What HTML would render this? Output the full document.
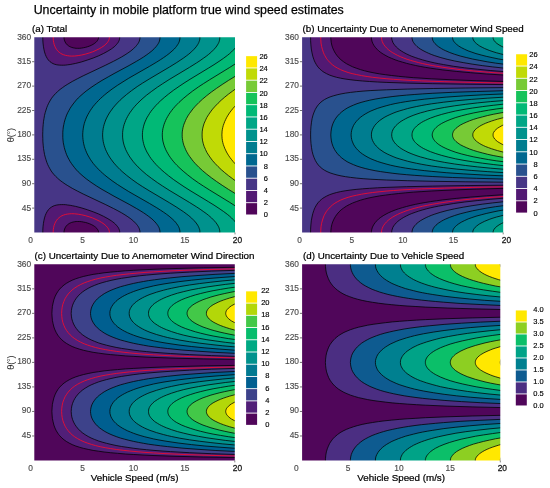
<!DOCTYPE html>
<html lang="en"><head><meta charset="utf-8"><title>Uncertainty in mobile platform true wind speed estimates</title>
<style>html,body{margin:0;padding:0;background:#fff}svg{display:block}</style></head>
<body>
<svg width="550" height="488" viewBox="0 0 550 488" font-family="'Liberation Sans', sans-serif">
<rect width="550" height="488" fill="#fff"/>
<text x="33.7" y="14.3" font-size="12.35" fill="#000" stroke="#000" stroke-width="0.25">Uncertainty in mobile platform true wind speed estimates</text>
<rect x="33.10" y="36.10" width="203.10" height="197.60" fill="#50065A"/>
<path d="M32.8 233.9L64.1 233.9L64 232.8L64 231.4L64.3 230.1L64.6 229L65.1 227.9L65.7 226.8L66.5 225.7L67.3 224.9L68.2 224.2L69.2 223.5L70.2 223L71.7 222.4L73.2 222L74.7 221.7L76.2 221.5L77.7 221.5L79.7 221.5L81.7 221.7L83.7 222.1L85.7 222.5L87.7 223.1L89.7 223.8L91.5 224.6L93.2 225.5L94.7 226.5L95.7 227.3L96.8 228.4L97.6 229.5L98.2 230.6L98.5 231.7L98.6 232.8L98.4 233.9L236.5 233.9L236.5 35.9L98.4 35.9L98.6 37L98.5 38.1L98.2 39.2L97.6 40.3L96.8 41.4L95.7 42.5L94.7 43.3L93.2 44.3L91.5 45.2L89.7 46L87.7 46.7L85.7 47.3L83.7 47.7L81.7 48.1L79.7 48.3L77.7 48.3L76.2 48.3L74.7 48.1L73.2 47.8L71.7 47.4L70.2 46.8L69.2 46.3L68.2 45.6L67.3 44.9L66.5 44.1L65.7 43L65.1 41.9L64.6 40.8L64.3 39.7L64 38.4L64 37L64.1 35.9L32.8 35.9Z" fill="#521973" fill-rule="evenodd"/>
<path d="M32.8 233.9L42.8 233.9L42.8 230.3L43 226.8L43.4 223.6L43.9 220.6L44.5 217.9L45.3 215.4L46.2 213.3L47.3 211.3L48.4 209.7L49.8 208.3L51.3 207.2L53 206.2L54.8 205.5L56.8 205L59.2 204.7L61.7 204.6L63.7 204.6L65.7 204.7L67.7 205L70.2 205.3L72.7 205.8L75.7 206.4L81.2 207.8L87.2 209.7L93.2 211.8L98.7 214L103.7 216.4L107.9 218.7L111.3 220.8L112.8 221.9L114.2 223L115.4 224.1L116.4 225.2L117.3 226.3L118.1 227.3L118.7 228.4L119.2 229.5L119.5 230.6L119.7 231.7L119.7 232.8L119.6 233.9L236.5 233.9L236.5 35.9L119.6 35.9L119.7 37L119.7 38.1L119.5 39.2L119.2 40.3L118.7 41.4L118.1 42.5L117.3 43.5L116.4 44.6L115.4 45.7L114.2 46.8L112.8 47.9L111.3 49L107.9 51.1L103.7 53.4L98.7 55.8L93.2 58L87.2 60.1L81.2 62L75.7 63.4L72.7 64L70.2 64.5L67.7 64.8L65.7 65.1L63.7 65.2L61.7 65.2L59.2 65.1L56.8 64.8L54.8 64.3L53 63.6L51.3 62.6L49.8 61.5L48.4 60.1L47.3 58.5L46.2 56.5L45.3 54.4L44.5 51.9L43.9 49.2L43.4 46.2L43 43L42.8 39.5L42.8 35.9L32.8 35.9Z" fill="#473686" fill-rule="evenodd"/>
<path d="M139.9 233.9L236.5 233.9L236.5 35.9L139.9 35.9L140 37L140 37.8L139.9 38.7L139.7 39.7L139.5 40.6L139 41.6L138 43.5L136.6 45.4L134.9 47.3L132.9 49.2L130.2 51.4L127.5 53.3L124.1 55.5L120.2 57.8L115.9 60.1L111.7 62.2L106.7 64.7L87.2 73.9L80 77.4L75.7 79.6L72.2 81.5L69 83.4L66.3 85L63.1 87.2L60.2 89.4L57.7 91.5L55.4 93.7L53.3 96.1L51.4 98.6L49.9 101L48.4 103.7L47.7 105.3L46.9 107.2L46.2 109.1L45.6 111L44.6 115.1L43.8 119.4L43.2 124.3L42.8 129.5L42.7 134.9L42.8 140.3L43.2 145.2L43.7 149.8L44.5 154.1L45.5 158.2L46.6 161.7L47.3 163.6L48 165.3L48.8 166.9L49.7 168.5L50.7 170.1L51.6 171.5L53.3 173.7L54.9 175.6L56.8 177.5L58.9 179.4L60.9 181L63.5 182.9L66.3 184.8L69.4 186.7L74.7 189.7L81.6 193.2L88.3 196.4L105.7 204.6L114.3 208.9L118.4 211.1L122.3 213.3L125.7 215.3L128.7 217.3L131.6 219.5L134.1 221.7L136.2 223.8L137.7 225.7L138.3 226.8L138.9 227.9L139.4 229L139.6 229.8L139.9 230.9L140 232L140 232.8Z" fill="#29518E" fill-rule="evenodd"/>
<path d="M160 233.9L236.5 233.9L236.5 35.9L160 35.9L160.1 37L160 37.8L159.9 38.9L159.7 40L159.4 41.1L159 42.2L158.4 43.3L157.8 44.3L157 45.4L156.2 46.5L155.2 47.6L153.9 49L151.5 51.1L148.5 53.6L145.8 55.5L143 57.4L139.5 59.5L135.8 61.7L128.7 65.7L109.1 76.3L103.9 79.3L99.3 82L94.6 85L90.2 88L86.6 90.7L82.9 93.7L80.2 96.1L77.4 98.8L75 101.6L72.7 104.4L70.8 107.2L69 110.2L67.5 113.2L66.2 116.2L65.2 119.2L64.2 122.4L63.6 125.7L63.1 129.2L62.8 132.5L62.8 136L63 139.5L63.3 142.8L63.9 146L64.7 149.3L65.8 152.5L67 155.5L68.4 158.5L70.1 161.5L71.9 164.2L73.9 166.9L75.7 169.1L77.7 171.2L79.9 173.4L82.3 175.6L84.9 177.7L87.6 179.9L90.6 182.1L93.8 184.2L99.8 188L106.7 192.1L113.5 195.9L129.7 204.6L137.2 208.9L140.8 211.1L144.2 213.3L147 215.1L149.5 217L152.2 219.2L154.5 221.4L156.4 223.6L157.2 224.6L157.9 225.7L158.6 226.8L159.1 227.9L159.7 229.8L159.9 230.9L160 232L160.1 232.8Z" fill="#006890" fill-rule="evenodd"/>
<path d="M179.9 233.9L236.5 233.9L236.5 35.9L179.9 35.9L180 37L180 38.1L179.9 39.2L179.6 40.3L179.3 41.4L178.9 42.5L178.3 43.5L177.7 44.6L176.2 46.8L174.1 49.1L171.7 51.4L168.8 53.8L166.3 55.7L163.2 57.9L159.9 60.1L156.4 62.2L149.5 66.3L129.7 77.7L124.3 80.9L119.2 84.2L113.9 87.7L109.4 91L105.3 94.2L101.6 97.5L98.5 100.5L95.5 103.7L93 106.7L90.7 110L88.6 113.2L87 116.5L85.6 119.7L84.4 123.2L83.7 126L83.2 128.7L82.9 131.4L82.7 134.1L82.8 137.1L83 139.8L83.4 142.5L84 145.2L84.8 147.9L85.8 150.6L87 153.3L88.2 155.8L89.8 158.5L91.4 160.9L93.2 163.4L95.2 165.8L97.2 168L99.3 170.1L101.6 172.3L104 174.5L106.7 176.7L109.4 178.8L112.4 181L115.5 183.2L121.3 187L127.9 191L134.4 194.8L150 203.8L157.3 208.1L160.7 210.3L164 212.4L167 214.6L169.5 216.5L172.3 218.9L174.5 221.1L176.4 223.3L177.9 225.5L178.5 226.5L179 227.6L179.4 228.7L179.7 229.8L179.9 230.9L180 232Z" fill="#007D90" fill-rule="evenodd"/>
<path d="M199.9 233.9L236.5 233.9L236.5 35.9L199.9 35.9L199.9 37L199.9 38.1L199.8 39.2L199.6 40.3L199.2 41.4L198.8 42.5L198.3 43.5L197.7 44.6L196.2 46.8L194.1 49.2L191.6 51.7L188.8 54.1L186.3 56L183.3 58.2L180.1 60.3L176.8 62.5L169.7 66.9L149.5 78.8L143.4 82.6L138.4 85.8L133 89.6L128.3 93.1L124 96.7L120.1 100.2L116.9 103.5L113.8 107L111.1 110.5L110 112.1L108.8 114L107.8 115.7L106.8 117.5L106.1 119.2L105.3 121.1L104.7 122.7L104.1 124.6L103.7 126.2L103.3 128.1L102.9 130.3L102.7 132.7L102.7 135.2L102.8 137.6L103 140.1L103.4 142.5L104 144.9L104.7 147.1L105.6 149.5L106.6 151.7L107.8 154.1L109.1 156.3L110.7 158.8L112.3 160.9L114.2 163.3L116.1 165.5L118.2 167.7L120.2 169.7L122.4 171.8L124.9 173.9L127.3 175.8L130 178L133 180.2L136 182.3L141.7 186.1L148.2 190.2L155 194.3L170.1 203.2L177.2 207.6L180.5 209.7L183.7 211.9L186.7 214.1L189.1 216L191.9 218.4L194.1 220.6L196.2 223L197.7 225.2L198.3 226.3L198.8 227.3L199.2 228.4L199.6 229.5L199.8 230.6L199.9 231.7L199.9 232.8Z" fill="#00928D" fill-rule="evenodd"/>
<path d="M219.8 233.9L236.5 233.9L236.5 35.9L219.8 35.9L219.8 37L219.8 38.1L219.7 39.2L219.5 40.3L219.2 41.4L218.8 42.5L218.3 43.5L217.5 44.9L216 47.1L213.9 49.5L211.5 51.9L208.3 54.7L205.8 56.5L202.9 58.7L199.7 60.9L195.9 63.3L188.9 67.7L170.4 78.8L165.2 82L160.6 85L156.2 88L152 91L148.1 94L144.8 96.7L142.3 98.8L140 101L137.8 103.2L135.7 105.3L133.8 107.5L132.1 109.7L130.5 111.9L129 114L127.8 116.2L126.6 118.4L125.6 120.5L124.7 123L124 125.1L123.4 127.3L123 129.5L122.7 131.9L122.6 134.1L122.6 136.3L122.7 138.4L123 140.6L123.5 142.8L124 144.9L124.8 147.1L125.5 149L126.5 151.2L127.6 153.3L128.9 155.5L130.1 157.4L131.7 159.6L133.4 161.7L135.1 163.8L137 165.8L138.8 167.7L141.1 169.9L143.2 171.8L145.8 173.9L150.9 178L156.6 182.1L162.3 185.9L168.7 189.9L174.9 193.7L189.8 202.7L196.8 207L200.5 209.5L203.6 211.6L206.6 213.8L209 215.7L211.7 218.1L214.2 220.6L216.2 223L217.7 225.2L218.3 226.3L218.8 227.3L219.2 228.4L219.5 229.5L219.7 230.6L219.8 231.7L219.8 232.8Z" fill="#00A686" fill-rule="evenodd"/>
<path d="M236.4 223.3L236.5 223.5L236.5 46.3L235.5 47.6L234.4 49L233.1 50.3L231.5 51.9L229.6 53.6L227.7 55.2L223.4 58.4L219 61.4L214 64.7L208.3 68.2L190 79.3L184 83.1L179.1 86.4L173.6 90.2L168.6 94L164.3 97.5L160.3 101L158.1 103.2L156 105.3L154.1 107.5L152.5 109.4L151 111.3L149.5 113.5L148.2 115.7L146.9 117.8L146 119.7L145 121.9L144.2 124.1L143.6 126.2L143.1 128.4L142.7 130.6L142.5 132.7L142.4 134.9L142.5 137.1L142.7 139.2L143.1 141.4L143.6 143.6L144.2 145.7L145 147.9L146 150.1L146.9 152L148.2 154.1L149.5 156.3L151 158.5L152.5 160.4L154.1 162.3L156 164.5L158.1 166.6L160.3 168.8L164.3 172.3L168.6 175.8L173.6 179.6L179.1 183.4L184 186.7L190 190.5L208.3 201.6L214 205.1L219 208.4L223.4 211.4L227.7 214.6L231.2 217.6L232.9 219.2L234.1 220.6L235.3 221.9Z" fill="#01B976" fill-rule="evenodd"/>
<path d="M236.2 206.5L236.5 206.7L236.5 63.1L229.3 67.7L209.4 79.9L203.4 83.7L198.5 86.9L192.7 91L187.8 94.8L183.2 98.6L179 102.4L176.9 104.5L175.1 106.4L173.2 108.6L171.7 110.5L170.3 112.4L168.8 114.6L167.7 116.5L166.5 118.6L165.6 120.5L164.7 122.7L164 124.6L163.4 126.8L162.9 128.7L162.6 130.8L162.4 132.7L162.3 134.9L162.4 137.1L162.6 139L162.9 141.1L163.4 143L164 145.2L164.7 147.1L165.6 149.3L166.5 151.2L167.7 153.3L168.8 155.2L170.3 157.4L171.7 159.3L173.2 161.2L175.1 163.4L176.9 165.3L179 167.4L183.2 171.2L187.8 175L192.7 178.8L198.5 182.9L203.4 186.1L209.4 189.9L228.9 201.9Z" fill="#16C35B" fill-rule="evenodd"/>
<path d="M236.4 194.3L236.5 194.3L236.5 75.5L228.5 80.4L222.2 84.5L216.6 88.3L211.3 92.1L206.8 95.6L202.6 99.1L198.8 102.6L195.3 106.2L193.6 108.1L192.1 110L189.5 113.5L188.4 115.1L187.3 117L186.4 118.6L185.5 120.5L184.8 122.2L184 124.1L183.5 125.7L183 127.6L182.7 129.2L182.4 131.1L182.2 133L182.2 134.9L182.2 136.8L182.4 138.7L182.7 140.6L183 142.2L183.5 144.1L184 145.7L184.8 147.6L185.5 149.3L186.4 151.2L187.3 152.8L188.4 154.7L189.5 156.3L192.1 159.8L193.6 161.7L195.3 163.6L198.8 167.2L202.6 170.7L206.8 174.2L211.3 177.7L216.6 181.5L222.2 185.3L228.5 189.4Z" fill="#77CA36" fill-rule="evenodd"/>
<path d="M236.5 181.5L236.5 181.6L236.5 88.2L232.3 91.3L228.4 94.2L224.7 97.2L221.2 100.2L218.1 103.2L215.2 106.2L212.6 109.1L210.5 111.9L208.5 114.8L206.8 117.5L205.5 120.3L204.2 123.2L203.3 126L202.6 128.9L202.2 131.9L202.1 134.9L202.2 137.9L202.6 140.9L203.3 143.8L204.2 146.6L205.5 149.5L206.8 152.3L208.5 155L210.5 157.9L212.6 160.7L215.2 163.6L218.1 166.6L221.2 169.6L224.7 172.6L228.4 175.6L232.3 178.5Z" fill="#C0DA06" fill-rule="evenodd"/>
<path d="M236.3 165L236.5 165.2L236.5 104.6L234.8 106.4L233.1 108.3L231.6 110.2L230.1 112.1L228.8 114L227.6 115.9L226.5 117.8L225.6 119.7L224.7 121.6L224 123.5L223.3 125.4L222.8 127.3L222.4 129.2L222.1 131.1L222 133L221.9 134.9L222 136.8L222.1 138.7L222.4 140.6L222.8 142.5L223.3 144.4L224 146.3L224.7 148.2L225.6 150.1L226.5 152L227.6 153.9L228.8 155.8L229.9 157.4L231.4 159.3L232.9 161.2L234.5 163.1Z" fill="#FFE800" fill-rule="evenodd"/>
<path d="M64.1 233.9L64 232.8L64 231.4L64.3 230.1L64.6 229L65.1 227.9L65.7 226.8L66.5 225.7L67.3 224.9L68.2 224.2L69.2 223.5L70.2 223L71.7 222.4L73.2 222L74.7 221.7L76.2 221.5L77.7 221.5L79.7 221.5L81.7 221.7L83.7 222.1L85.7 222.5L87.7 223.1L89.7 223.8L91.5 224.6L93.2 225.5L94.7 226.5L95.7 227.3L96.8 228.4L97.6 229.5L98.2 230.6L98.5 231.7L98.6 232.8L98.4 233.9M98.4 35.9L98.6 37L98.5 38.1L98.2 39.2L97.6 40.3L96.8 41.4L95.7 42.5L94.7 43.3L93.2 44.3L91.5 45.2L89.7 46L87.7 46.7L85.7 47.3L83.7 47.7L81.7 48.1L79.7 48.3L77.7 48.3L76.2 48.3L74.7 48.1L73.2 47.8L71.7 47.4L70.2 46.8L69.2 46.3L68.2 45.6L67.3 44.9L66.5 44.1L65.7 43L65.1 41.9L64.6 40.8L64.3 39.7L64 38.4L64 37L64.1 35.9M42.8 233.9L42.8 230.3L43 226.8L43.4 223.6L43.9 220.6L44.5 217.9L45.3 215.4L46.2 213.3L47.3 211.3L48.4 209.7L49.8 208.3L51.3 207.2L53 206.2L54.8 205.5L56.8 205L59.2 204.7L61.7 204.6L63.7 204.6L65.7 204.7L67.7 205L70.2 205.3L72.7 205.8L75.7 206.4L81.2 207.8L87.2 209.7L93.2 211.8L98.7 214L103.7 216.4L107.9 218.7L111.3 220.8L112.8 221.9L114.2 223L115.4 224.1L116.4 225.2L117.3 226.3L118.1 227.3L118.7 228.4L119.2 229.5L119.5 230.6L119.7 231.7L119.7 232.8L119.6 233.9M119.6 35.9L119.7 37L119.7 38.1L119.5 39.2L119.2 40.3L118.7 41.4L118.1 42.5L117.3 43.5L116.4 44.6L115.4 45.7L114.2 46.8L112.8 47.9L111.3 49L107.9 51.1L103.7 53.4L98.7 55.8L93.2 58L87.2 60.1L81.2 62L75.7 63.4L72.7 64L70.2 64.5L67.7 64.8L65.7 65.1L63.7 65.2L61.7 65.2L59.2 65.1L56.8 64.8L54.8 64.3L53 63.6L51.3 62.6L49.8 61.5L48.4 60.1L47.3 58.5L46.2 56.5L45.3 54.4L44.5 51.9L43.9 49.2L43.4 46.2L43 43L42.8 39.5L42.8 35.9M139.9 35.9L140 37L140 37.8L139.9 38.9L139.6 40L139.3 41.1L138.8 42.2L138.2 43.3L137.5 44.3L136.6 45.4L135.7 46.5L133.5 48.7L130.9 50.9L127.9 53L125 54.9L121.7 56.9L117.9 59L113.7 61.2L105.2 65.4L83.2 75.8L77.3 78.8L72.2 81.5L67.2 84.5L65.1 85.8L62.7 87.5L60.9 88.8L58.9 90.4L57.4 91.8L55.7 93.4L54.2 95L52.6 96.9L51.2 98.8L49.9 101L48.7 103.2L47.7 105.3L46.8 107.5L46 110L45.2 112.7L44.5 115.4L44 118.4L43.5 121.3L43.2 124.6L42.9 127.9L42.8 131.4L42.7 134.9L42.8 138.4L42.9 141.9L43.2 145.2L43.5 148.5L44 151.4L44.5 154.4L45.2 157.1L46 159.8L46.8 162.3L47.7 164.5L48.7 166.6L49.9 168.8L51.2 171L52.6 172.9L54.2 174.8L55.7 176.4L57.4 178L58.9 179.4L60.9 181L62.7 182.3L65.1 184L67.2 185.3L72.2 188.3L77.3 191L83.2 194L105.2 204.4L113.7 208.6L117.9 210.8L121.7 212.9L125 214.9L127.9 216.8L130.9 218.9L133.5 221.1L135.7 223.3L136.6 224.4L137.5 225.5L138.2 226.5L138.8 227.6L139.3 228.7L139.6 229.8L139.9 230.9L140 232L140 232.8L139.9 233.9M160 35.9L160.1 37L160 37.8L159.9 38.9L159.7 40L159.4 41.1L159 42.2L158.4 43.3L157.8 44.3L157 45.4L156.2 46.5L154.2 48.7L151.9 50.9L148.8 53.3L146.2 55.2L143.4 57.1L139.9 59.3L136.3 61.4L129.1 65.5L114 73.6L108.2 76.9L102 80.4L96.7 83.7L91 87.5L86.2 91L83.9 92.9L82 94.5L79.9 96.4L78.2 98L76.4 99.9L74.6 102.1L73.1 104L71.5 106.2L70.1 108.3L68.9 110.5L67.7 112.7L66.6 115.1L65.8 117.3L65 119.7L64.3 122.2L63.8 124.6L63.3 127L63 129.7L62.8 132.2L62.8 134.9L62.8 137.6L63 140.1L63.3 142.8L63.8 145.2L64.3 147.6L65 150.1L65.8 152.5L66.6 154.7L67.7 157.1L68.9 159.3L70.1 161.5L71.5 163.6L73.1 165.8L74.6 167.7L76.4 169.9L78.2 171.8L79.9 173.4L82 175.3L83.9 176.9L86.2 178.8L91 182.3L96.7 186.1L102 189.4L108.2 192.9L114 196.2L129.1 204.3L136.3 208.4L139.9 210.5L143.4 212.7L146.2 214.6L148.8 216.5L151.9 218.9L154.2 221.1L156.2 223.3L157 224.4L157.8 225.5L158.4 226.5L159 227.6L159.4 228.7L159.7 229.8L159.9 230.9L160 232L160.1 232.8L160 233.9M179.9 35.9L180 37.8L179.9 38.9L179.7 40L179.4 41.1L179 42.2L178.5 43.3L177.9 44.3L176.4 46.5L175.5 47.6L174.3 49L172 51.1L169.1 53.6L166.6 55.5L163.6 57.6L160.3 59.8L156.8 62L149.6 66.3L134.9 74.7L128.8 78.2L123 81.8L117.5 85.3L112 89.1L107 92.9L104.7 94.8L102.5 96.7L100.4 98.6L98.5 100.5L96.7 102.4L94.8 104.5L93.2 106.4L91.6 108.6L90.3 110.5L89 112.7L87.8 114.8L86.7 117L85.8 119.2L85 121.3L84.3 123.5L83.7 126L83.3 128.1L83 130.3L82.8 132.5L82.7 134.9L82.8 137.3L83 139.5L83.3 141.7L83.7 143.8L84.3 146.3L85 148.5L85.8 150.6L86.7 152.8L87.8 155L89 157.1L90.3 159.3L91.6 161.2L93.2 163.4L94.8 165.3L96.7 167.4L98.5 169.3L100.4 171.2L102.5 173.1L104.7 175L107 176.9L112 180.7L117.5 184.5L123 188L128.8 191.6L134.9 195.1L149.6 203.5L156.8 207.8L160.3 210L163.6 212.2L166.6 214.3L169.1 216.2L172 218.7L174.3 220.8L175.5 222.2L176.4 223.3L177.9 225.5L178.5 226.5L179 227.6L179.4 228.7L179.7 229.8L179.9 230.9L180 232L179.9 233.9M199.9 35.9L199.9 37L199.9 38.1L199.8 39.2L199.6 40.3L199.2 41.4L198.8 42.5L198.3 43.5L197.7 44.6L196.2 46.8L194.1 49.2L191.6 51.7L188.8 54.1L186.3 56L183.3 58.2L180.1 60.3L176.8 62.5L169.7 66.9L149.1 79.1L142.6 83.1L137.2 86.6L131.5 90.7L126.6 94.5L122.1 98.3L120.1 100.2L118.2 102.1L116.4 104L114.7 105.9L113.1 107.8L111.5 110L110.1 111.9L108.8 114L107.7 115.9L106.6 118.1L105.7 120L104.9 122.2L104.2 124.3L103.6 126.5L103.2 128.4L102.9 130.6L102.7 132.7L102.6 134.9L102.7 137.1L102.9 139.2L103.2 141.4L103.6 143.3L104.2 145.5L104.9 147.6L105.7 149.8L106.6 151.7L107.7 153.9L108.8 155.8L110.1 157.9L111.5 159.8L113.1 162L114.7 163.9L116.4 165.8L118.2 167.7L120.1 169.6L122.1 171.5L126.6 175.3L131.5 179.1L137.2 183.2L142.6 186.7L149.1 190.7L169.7 202.9L176.8 207.3L180.1 209.5L183.3 211.6L186.3 213.8L188.8 215.7L191.6 218.1L194.1 220.6L196.2 223L197.7 225.2L198.3 226.3L198.8 227.3L199.2 228.4L199.6 229.5L199.8 230.6L199.9 231.7L199.9 232.8L199.9 233.9M219.8 35.9L219.8 37L219.8 38.1L219.7 39.2L219.5 40.3L219.2 41.4L218.8 42.5L218.3 43.5L217.5 44.9L216 47.1L213.9 49.5L211.5 51.9L208.6 54.4L206.2 56.3L203.2 58.4L200.1 60.6L196.6 62.9L189.4 67.4L169.1 79.6L162.7 83.7L157.4 87.2L151.7 91.3L146.4 95.3L142 99.1L138 102.9L136.2 104.8L134.5 106.7L132.9 108.6L131.3 110.8L129.9 112.7L128.7 114.6L127.6 116.5L126.5 118.6L125.6 120.5L124.8 122.7L124.1 124.6L123.5 126.8L123.1 128.7L122.8 130.8L122.6 132.7L122.6 134.9L122.6 137.1L122.8 139L123.1 141.1L123.5 143L124.1 145.2L124.8 147.1L125.6 149.3L126.5 151.2L127.6 153.3L128.7 155.2L129.9 157.1L131.3 159L132.9 161.2L134.5 163.1L136.2 165L138 166.9L142 170.7L146.4 174.5L151.7 178.5L157.4 182.6L162.7 186.1L169.1 190.2L189.4 202.4L196.6 206.9L200.1 209.2L203.2 211.4L206.2 213.5L208.6 215.4L211.5 217.9L213.9 220.3L216 222.7L217.5 224.9L218.3 226.3L218.8 227.3L219.2 228.4L219.5 229.5L219.7 230.6L219.8 231.7L219.8 232.8L219.8 233.9M236.5 46.3L235.5 47.6L234.4 49L233.1 50.3L231.5 51.9L229.6 53.6L227.7 55.2L223.4 58.4L219 61.4L214 64.7L208.3 68.2L190 79.3L184 83.1L179.1 86.4L173.6 90.2L168.6 94L164.3 97.5L160.3 101L158.1 103.2L156 105.3L154.1 107.5L152.5 109.4L151 111.3L149.5 113.5L148.2 115.7L146.9 117.8L146 119.7L145 121.9L144.2 124.1L143.6 126.2L143.1 128.4L142.7 130.6L142.5 132.7L142.4 134.9L142.5 137.1L142.7 139.2L143.1 141.4L143.6 143.6L144.2 145.7L145 147.9L146 150.1L146.9 152L148.2 154.1L149.5 156.3L151 158.5L152.5 160.4L154.1 162.3L156 164.5L158.1 166.6L160.3 168.8L164.3 172.3L168.6 175.8L173.6 179.6L179.1 183.4L184 186.7L190 190.5L208.3 201.6L214 205.1L219 208.4L223.4 211.4L227.7 214.6L229.6 216.2L231.5 217.9L233.1 219.5L234.4 220.8L235.5 222.2L236.5 223.5M236.5 63.1L229.3 67.7L209.4 79.9L203.4 83.7L198.5 86.9L192.7 91L187.8 94.8L183.2 98.6L179 102.4L176.9 104.5L175.1 106.4L173.2 108.6L171.7 110.5L170.3 112.4L168.8 114.6L167.7 116.5L166.5 118.6L165.6 120.5L164.7 122.7L164 124.6L163.4 126.8L162.9 128.7L162.6 130.8L162.4 132.7L162.3 134.9L162.4 137.1L162.6 139L162.9 141.1L163.4 143L164 145.2L164.7 147.1L165.6 149.3L166.5 151.2L167.7 153.3L168.8 155.2L170.3 157.4L171.7 159.3L173.2 161.2L175.1 163.4L176.9 165.3L179 167.4L183.2 171.2L187.8 175L192.7 178.8L198.5 182.9L203.4 186.1L209.4 189.9L229.3 202.1L236.5 206.7M236.5 75.5L228.5 80.4L222.2 84.5L216.6 88.3L211.3 92.1L206.8 95.6L202.6 99.1L198.8 102.6L195.3 106.2L193.6 108.1L192.1 110L189.5 113.5L188.4 115.1L187.3 117L186.4 118.6L185.5 120.5L184.8 122.2L184 124.1L183.5 125.7L183 127.6L182.7 129.2L182.4 131.1L182.2 133L182.2 134.9L182.2 136.8L182.4 138.7L182.7 140.6L183 142.2L183.5 144.1L184 145.7L184.8 147.6L185.5 149.3L186.4 151.2L187.3 152.8L188.4 154.7L189.5 156.3L192.1 159.8L193.6 161.7L195.3 163.6L198.8 167.2L202.6 170.7L206.8 174.2L211.3 177.7L216.6 181.5L222.2 185.3L228.5 189.4L236.5 194.3M236.5 88.2L232.3 91.3L228.4 94.2L224.7 97.2L221.2 100.2L218.1 103.2L215.2 106.2L212.6 109.1L210.5 111.9L208.5 114.8L206.8 117.5L205.5 120.3L204.2 123.2L203.3 126L202.6 128.9L202.2 131.9L202.1 134.9L202.2 137.9L202.6 140.9L203.3 143.8L204.2 146.6L205.5 149.5L206.8 152.3L208.5 155L210.5 157.9L212.6 160.7L215.2 163.6L218.1 166.6L221.2 169.6L224.7 172.6L228.4 175.6L232.3 178.5L236.5 181.6M236.5 104.6L234.8 106.4L233.1 108.3L231.6 110.2L230.1 112.1L228.8 114L227.6 115.9L226.5 117.8L225.6 119.7L224.7 121.6L224 123.5L223.3 125.4L222.8 127.3L222.4 129.2L222.1 131.1L222 133L221.9 134.9L222 136.8L222.1 138.7L222.4 140.6L222.8 142.5L223.3 144.4L224 146.3L224.7 148.2L225.6 150.1L226.5 152L227.6 153.9L228.8 155.8L230.1 157.7L231.6 159.6L233.1 161.5L234.8 163.4L236.5 165.2" fill="none" stroke="#000" stroke-width="0.75" stroke-linejoin="round"/>
<path d="M53.2 233.9L53.2 231.7L53.3 229.5L53.7 227.3L54.1 225.5L54.8 223.6L55.6 221.9L56.6 220.3L57.7 218.9L59.1 217.6L60.6 216.5L62 215.7L63.7 215L65.7 214.4L67.4 214.1L69.7 213.8L71.7 213.7L74.7 213.8L78.2 214.2L81.7 214.8L85.2 215.6L89.2 216.8L92.7 218L96.1 219.5L99.2 221L101.7 222.5L104.1 224.1L105.9 225.7L107.4 227.3L108 228.2L108.5 229L108.9 229.8L109.1 230.6L109.3 231.4L109.4 232.2L109.4 233L109.3 233.9M109.3 35.9L109.4 36.8L109.4 37.6L109.3 38.4L109.1 39.2L108.9 40L108.5 40.8L108 41.6L107.4 42.5L105.9 44.1L104.1 45.7L101.7 47.3L99.2 48.8L96.1 50.3L92.7 51.8L89.2 53L85.2 54.2L81.7 55L78.2 55.6L74.7 56L71.7 56.1L69.7 56L67.4 55.7L65.7 55.4L63.7 54.8L62 54.1L60.6 53.3L59.1 52.2L57.7 50.9L56.6 49.5L55.6 47.9L54.8 46.2L54.1 44.3L53.7 42.5L53.3 40.3L53.2 38.1L53.2 35.9" fill="none" stroke="#FF0A2A" stroke-width="0.8" stroke-linejoin="round"/>
<path d="M31.299999999999997 34.3H238.0V235.5H31.299999999999997ZM34.3 37.3V232.5H235.0V37.3Z" fill="#fff" fill-rule="evenodd"/>
<text x="32.0" y="31.60" font-size="9.8" fill="#000" stroke="#000" stroke-width="0.22">(a) Total</text>
<line x1="32.1" x2="34.3" y1="208.10" y2="208.10" stroke="#333" stroke-width="0.7"/>
<text x="31.2" y="210.50" font-size="8.4" fill="#4D4D4D" stroke="#4D4D4D" stroke-width="0.15" text-anchor="end">45</text>
<line x1="32.1" x2="34.3" y1="183.70" y2="183.70" stroke="#333" stroke-width="0.7"/>
<text x="31.2" y="185.70" font-size="8.4" fill="#4D4D4D" stroke="#4D4D4D" stroke-width="0.15" text-anchor="end">90</text>
<line x1="32.1" x2="34.3" y1="159.30" y2="159.30" stroke="#333" stroke-width="0.7"/>
<text x="31.2" y="161.30" font-size="8.4" fill="#4D4D4D" stroke="#4D4D4D" stroke-width="0.15" text-anchor="end">135</text>
<line x1="32.1" x2="34.3" y1="134.90" y2="134.90" stroke="#333" stroke-width="0.7"/>
<text x="31.2" y="136.90" font-size="8.4" fill="#4D4D4D" stroke="#4D4D4D" stroke-width="0.15" text-anchor="end">180</text>
<line x1="32.1" x2="34.3" y1="110.50" y2="110.50" stroke="#333" stroke-width="0.7"/>
<text x="31.2" y="112.50" font-size="8.4" fill="#4D4D4D" stroke="#4D4D4D" stroke-width="0.15" text-anchor="end">225</text>
<line x1="32.1" x2="34.3" y1="86.10" y2="86.10" stroke="#333" stroke-width="0.7"/>
<text x="31.2" y="88.10" font-size="8.4" fill="#4D4D4D" stroke="#4D4D4D" stroke-width="0.15" text-anchor="end">270</text>
<line x1="32.1" x2="34.3" y1="61.70" y2="61.70" stroke="#333" stroke-width="0.7"/>
<text x="31.2" y="63.70" font-size="8.4" fill="#4D4D4D" stroke="#4D4D4D" stroke-width="0.15" text-anchor="end">315</text>
<text x="31.2" y="39.70" font-size="8.4" fill="#4D4D4D" stroke="#4D4D4D" stroke-width="0.15" text-anchor="end">360</text>
<text x="30.7" y="242.9" font-size="8.4" fill="#4D4D4D" stroke="#4D4D4D" stroke-width="0.15" text-anchor="middle">0</text>
<text x="82.7" y="242.9" font-size="8.4" fill="#4D4D4D" stroke="#4D4D4D" stroke-width="0.15" text-anchor="middle">5</text>
<text x="133.5" y="242.9" font-size="8.4" fill="#4D4D4D" stroke="#4D4D4D" stroke-width="0.15" text-anchor="middle">10</text>
<text x="184.8" y="242.9" font-size="8.4" fill="#4D4D4D" stroke="#4D4D4D" stroke-width="0.15" text-anchor="middle">15</text>
<text x="237.4" y="242.9" font-size="8.4" fill="#1a1a1a" stroke="#1a1a1a" stroke-width="0.3" text-anchor="middle">20</text>
<line x1="235.0" x2="235.0" y1="232.5" y2="234.4" stroke="#333" stroke-width="0.6"/>
<text transform="translate(14.2 135.2) rotate(-90)" font-size="9.2" fill="#222" letter-spacing="-0.2" text-anchor="middle">θ(°)</text>
<rect x="246.1" y="203.15" width="11.0" height="11.35" fill="#50065A"/>
<rect x="246.1" y="190.90" width="11.0" height="11.35" fill="#521973"/>
<rect x="246.1" y="178.65" width="11.0" height="11.35" fill="#473686"/>
<rect x="246.1" y="166.40" width="11.0" height="11.35" fill="#29518E"/>
<rect x="246.1" y="154.15" width="11.0" height="11.35" fill="#006890"/>
<rect x="246.1" y="141.90" width="11.0" height="11.35" fill="#007D90"/>
<rect x="246.1" y="129.65" width="11.0" height="11.35" fill="#00928D"/>
<rect x="246.1" y="117.40" width="11.0" height="11.35" fill="#00A686"/>
<rect x="246.1" y="105.15" width="11.0" height="11.35" fill="#01B976"/>
<rect x="246.1" y="92.90" width="11.0" height="11.35" fill="#16C35B"/>
<rect x="246.1" y="80.65" width="11.0" height="11.35" fill="#77CA36"/>
<rect x="246.1" y="68.40" width="11.0" height="11.35" fill="#C0DA06"/>
<rect x="246.1" y="56.15" width="11.0" height="11.35" fill="#FFE800"/>
<text x="267.8" y="217.10" font-size="7.5" fill="#000" stroke="#000" stroke-width="0.15" text-anchor="end">0</text>
<text x="267.8" y="204.95" font-size="7.5" fill="#000" stroke="#000" stroke-width="0.15" text-anchor="end">2</text>
<text x="267.8" y="192.81" font-size="7.5" fill="#000" stroke="#000" stroke-width="0.15" text-anchor="end">4</text>
<text x="267.8" y="180.66" font-size="7.5" fill="#000" stroke="#000" stroke-width="0.15" text-anchor="end">6</text>
<text x="267.8" y="168.52" font-size="7.5" fill="#000" stroke="#000" stroke-width="0.15" text-anchor="end">8</text>
<text x="267.8" y="156.37" font-size="7.5" fill="#000" stroke="#000" stroke-width="0.15" text-anchor="end">10</text>
<text x="267.8" y="144.22" font-size="7.5" fill="#000" stroke="#000" stroke-width="0.15" text-anchor="end">12</text>
<text x="267.8" y="132.08" font-size="7.5" fill="#000" stroke="#000" stroke-width="0.15" text-anchor="end">14</text>
<text x="267.8" y="119.93" font-size="7.5" fill="#000" stroke="#000" stroke-width="0.15" text-anchor="end">16</text>
<text x="267.8" y="107.79" font-size="7.5" fill="#000" stroke="#000" stroke-width="0.15" text-anchor="end">18</text>
<text x="267.8" y="95.64" font-size="7.5" fill="#000" stroke="#000" stroke-width="0.15" text-anchor="end">20</text>
<text x="267.8" y="83.49" font-size="7.5" fill="#000" stroke="#000" stroke-width="0.15" text-anchor="end">22</text>
<text x="267.8" y="71.35" font-size="7.5" fill="#000" stroke="#000" stroke-width="0.15" text-anchor="end">24</text>
<text x="267.8" y="59.20" font-size="7.5" fill="#000" stroke="#000" stroke-width="0.15" text-anchor="end">26</text>
<rect x="300.90" y="36.10" width="203.50" height="197.60" fill="#50065A"/>
<path d="M300.6 233.9L330.9 233.9L330.8 232.2L330.9 230.6L331 229L331.3 227.3L331.6 225.7L332 224.1L332.5 222.5L333 221.1L334.3 218.4L335 217L335.9 215.7L336.9 214.3L337.8 213.3L339 211.9L340.1 210.8L342.4 208.9L345.1 207L348.2 205.1L351.6 203.5L355.5 201.9L359.5 200.5L364.2 199.2L369.1 197.9L373.8 197L378.6 196.1L384.1 195.3L390.1 194.4L396.3 193.7L403.2 193L410.2 192.4L417.9 191.8L435.2 190.8L455.2 189.8L478.2 189L504.7 188.3L504.7 81.5L478.2 80.8L455.2 80L435.2 79L417.9 78L410.2 77.4L403.2 76.8L396.3 76.1L390.1 75.4L384.1 74.5L378.6 73.7L373.8 72.8L369.1 71.9L364.2 70.6L359.5 69.3L355.5 67.9L351.6 66.3L348.2 64.7L345.1 62.8L342.4 60.9L340.1 59L339 57.9L337.8 56.5L336.9 55.5L335.9 54.1L335 52.8L334.3 51.4L333 48.7L332.5 47.3L332 45.7L331.6 44.1L331.3 42.5L331 40.8L330.9 39.2L330.8 37.6L330.9 35.9L300.6 35.9ZM371.5 233.9L504.7 233.9L504.7 194.7L486.7 195.8L470.7 197.1L456.2 198.4L442.7 199.9L436.3 200.8L430.7 201.6L425.2 202.5L420.2 203.4L415.7 204.3L410.8 205.4L406.5 206.5L402.6 207.6L398.6 208.8L395.2 210L391.7 211.4L388.7 212.7L386 214.1L383.2 215.7L380.8 217.3L378.7 218.9L377 220.6L375.3 222.5L374.1 224.1L373 226L372.2 227.9L371.7 229.8L371.4 231.7L371.4 232.8ZM503.1 75L504.7 75.1L504.7 35.9L371.5 35.9L371.4 37L371.4 38.1L371.7 40L372.2 41.9L373 43.8L374.1 45.7L375.3 47.3L377 49.2L378.7 50.9L380.8 52.5L383.2 54.1L386 55.7L388.6 57.1L391.7 58.4L395.1 59.8L398.6 61L402.1 62.1L406.5 63.3L410.7 64.4L415.2 65.4L419.7 66.3L424.7 67.2L430.2 68.1L435.7 68.9L441.7 69.7L454.7 71.2L469.2 72.6L485.2 73.9Z" fill="#521973" fill-rule="evenodd"/>
<path d="M300.6 233.9L310.6 233.9L310.7 228.4L311 223.3L311.7 218.7L312.1 216.5L312.6 214.3L313.1 212.4L313.8 210.5L314.4 208.9L315.2 207.3L316 205.7L316.9 204.3L317.9 202.9L318.8 201.9L320.4 200.2L322.1 198.8L324.1 197.5L326.4 196.2L328.7 195.1L331.6 194L334.6 193.1L337.6 192.3L341.6 191.4L346.1 190.7L351.3 189.9L357.1 189.3L363.6 188.7L370.6 188.2L378.6 187.7L387.1 187.3L407.7 186.6L433.7 186.1L465.2 185.6L504.7 185.2L504.7 84.6L465.2 84.2L433.7 83.7L407.7 83.2L387.1 82.5L378.6 82.1L370.6 81.6L363.6 81.1L357.1 80.5L351.3 79.9L346.1 79.1L341.6 78.4L337.6 77.5L334.6 76.7L331.6 75.8L328.7 74.7L326.4 73.6L324.1 72.3L322.1 71L320.4 69.6L318.8 67.9L317.9 66.9L316.9 65.5L316 64.1L315.2 62.5L314.4 60.9L313.8 59.3L313.1 57.4L312.6 55.5L312.1 53.3L311.7 51.1L311 46.5L310.7 41.4L310.6 35.9L300.6 35.9ZM391.8 233.9L504.7 233.9L504.7 198.1L490.2 199.3L477.2 200.6L464.7 202L453.7 203.5L443.7 205.2L438.7 206.1L434.2 207L430.2 207.9L426.2 208.9L422.3 210L418.7 211.1L415.2 212.3L411.8 213.5L409.2 214.6L406.3 216L403.8 217.3L401.5 218.7L399.6 220L397.8 221.4L396.4 222.7L394.9 224.4L393.9 225.7L392.9 227.3L392.3 229L391.8 230.6L391.7 232.2ZM501.4 71.5L504.7 71.7L504.7 35.9L391.8 35.9L391.7 37.6L391.8 39.2L392.3 40.8L392.9 42.5L393.9 44.1L394.9 45.4L396.4 47.1L397.8 48.4L399.6 49.8L401.5 51.1L403.8 52.5L406.3 53.8L409.2 55.2L411.8 56.3L414.7 57.4L418.2 58.6L421.3 59.5L425.2 60.6L429.2 61.6L433.2 62.6L437.7 63.5L442.4 64.4L452 66L462.7 67.5L474.7 69L487.7 70.3Z" fill="#473686" fill-rule="evenodd"/>
<path d="M412.1 233.9L504.7 233.9L504.7 201.6L492.7 202.9L482.2 204.2L472.1 205.7L463.2 207.2L454.7 208.8L447.1 210.5L440.1 212.4L434.2 214.3L431.2 215.4L428.6 216.5L426.2 217.6L424 218.7L422 219.8L420.3 220.8L418.7 222L417 223.3L415.9 224.4L414.7 225.7L413.7 227.1L412.9 228.4L412.4 229.8L412.1 231.1L412 232.5ZM494.1 182.1L504.7 182.2L504.7 87.6L471.7 87.9L443.7 88.3L420.7 88.7L401.1 89.2L384.6 89.8L371.1 90.6L359.6 91.4L354.6 91.9L350.1 92.5L346.1 93.1L342.3 93.7L338.6 94.5L335.6 95.2L332.6 96.1L330.1 96.9L327.6 98L325.4 99.1L323.6 100.2L321.7 101.6L320.1 102.9L318.6 104.5L317.3 106.2L316 108.1L314.9 110.2L314 112.4L313.3 114.3L312.7 116.5L312.1 118.6L311.7 121.1L311.3 123.5L311 126.2L310.8 128.9L310.6 131.9L310.6 134.6L310.6 137.6L310.7 140.6L310.9 143.3L311.3 146L311.7 148.7L312.1 151.2L312.7 153.3L313.2 155.2L313.8 156.9L314.4 158.5L315.2 160.1L316 161.7L316.9 163.1L317.9 164.5L318.8 165.5L319.8 166.6L321 167.7L322.4 168.8L323.6 169.6L325.1 170.5L326.6 171.3L328.1 172L330.1 172.9L333.6 174.1L337.6 175.1L342.3 176.1L347.6 177L353.6 177.7L360.1 178.4L367.6 179L375.6 179.5L385.1 180L395.6 180.4L407.7 180.8L421.2 181.1L453.2 181.6ZM502.5 67.9L504.7 68.2L504.7 35.9L412.1 35.9L412 37.3L412.1 38.7L412.4 40L412.9 41.4L413.7 42.7L414.7 44.1L415.9 45.4L417 46.5L418.7 47.8L420.3 49L422 50L424 51.1L426.2 52.2L428.6 53.3L431.2 54.4L434.2 55.5L440.1 57.4L447.1 59.3L454.2 60.9L462.4 62.5L471.2 64L480.7 65.4L491.2 66.7Z" fill="#29518E" fill-rule="evenodd"/>
<path d="M432.4 233.9L504.7 233.9L504.7 205.5L495.5 206.7L487.2 208L479.2 209.5L472.5 210.8L466.2 212.3L460.2 213.8L454.7 215.5L449.7 217.3L445.3 219.2L443.6 220L441.6 221.1L440.2 222L438.6 223L437.2 224.1L436 225.2L434.9 226.3L434.1 227.3L433.4 228.4L432.8 229.5L432.5 230.6L432.3 231.7L432.2 232.8ZM494.9 178.8L504.7 179.1L504.7 90.7L479.2 91.4L457.2 92.2L438.2 93L421.2 94L406.7 95.1L400.1 95.7L393.6 96.4L387.6 97.2L382.1 98L377.1 98.8L372.6 99.6L368.1 100.6L364.2 101.6L360.4 102.6L357 103.7L354.1 104.8L351 106.2L348.1 107.6L345.4 109.1L343.1 110.8L341 112.4L339 114.3L337.3 116.2L335.7 118.4L334.4 120.5L333.3 122.7L332.4 125.1L331.9 126.8L331.5 128.4L331.2 130L331 131.6L330.9 133.3L330.8 135.2L330.9 136.8L331 138.4L331.3 140.1L331.6 141.7L332 143.3L332.5 144.9L333.1 146.5L333.7 147.9L334.6 149.5L335.4 150.9L337.1 153.3L338.1 154.5L339.3 155.8L340.4 156.9L341.7 157.9L343.1 159L344.6 160.1L347.6 161.9L351 163.6L354.6 165.2L358.6 166.6L362.6 167.8L367.4 169.1L372.4 170.1L378.1 171.2L384.1 172.1L390.6 173L397.6 173.8L405.2 174.5L413.2 175.2L422.2 175.9L432.2 176.5L442.7 177L466.7 178ZM503.4 64.1L504.7 64.3L504.7 35.9L432.4 35.9L432.2 37L432.3 38.1L432.5 39.2L432.8 40.3L433.4 41.4L434.1 42.5L434.9 43.5L436 44.6L437.2 45.7L438.6 46.8L440.2 47.8L441.6 48.7L443.6 49.8L445.3 50.6L449.2 52.3L454.2 54.1L459.2 55.7L465.2 57.3L471.2 58.7L478.2 60.2L486.2 61.6L494.2 62.9Z" fill="#006890" fill-rule="evenodd"/>
<path d="M452.7 233.9L504.7 233.9L504.7 209.8L498.2 210.9L492.1 212.2L486.2 213.5L481.2 214.8L476 216.2L471.9 217.6L468.2 218.9L464.7 220.5L461.3 222.2L458.7 223.8L456.5 225.5L455.6 226.3L454.9 227.1L454.2 227.9L453.6 228.7L453.2 229.5L452.9 230.3L452.7 231.1L452.5 232L452.5 233ZM502.9 175.8L504.7 175.9L504.7 93.9L484.3 94.8L466.2 95.8L449.7 96.9L435.2 98.1L422.2 99.4L416.2 100.2L410.7 100.9L405.2 101.8L400.3 102.6L395.6 103.5L391.1 104.5L386.7 105.6L382.8 106.7L379.1 107.8L375.6 109.1L372.6 110.3L369.6 111.6L367.1 112.9L364.3 114.6L361.9 116.2L359.9 117.8L358.1 119.4L356.4 121.3L354.9 123.2L353.7 125.1L352.8 127L352 129.2L351.4 131.6L351.1 134.1L351.1 135.4L351.2 136.8L351.6 139.2L352 140.6L352.4 141.7L352.9 143L353.4 144.1L354.2 145.5L354.9 146.6L356.6 148.8L358.7 150.9L360.9 152.8L363.5 154.7L366.6 156.6L369.7 158.2L373.4 159.8L377.1 161.3L381.1 162.6L385.6 163.9L389.9 165L394.8 166.1L400.3 167.2L406.2 168.2L412.2 169.1L418.7 169.9L426.2 170.8L433.7 171.6L441.9 172.3L450.7 173L459.7 173.6L479.7 174.8ZM503.5 59.8L504.7 60L504.7 35.9L452.7 35.9L452.5 36.8L452.5 37.8L452.7 38.7L452.9 39.5L453.2 40.3L453.6 41.1L454.2 41.9L454.9 42.7L455.6 43.5L456.5 44.3L458.6 46L461.3 47.6L464.5 49.2L468.2 50.8L471.9 52.2L476 53.6L480.7 54.9L486.1 56.3L491.2 57.4L497.2 58.7Z" fill="#007D90" fill-rule="evenodd"/>
<path d="M472.9 233.9L504.7 233.9L504.7 214.9L500.5 216L496.6 217L493 218.1L489.8 219.2L487 220.3L484.4 221.4L482.2 222.5L479.7 223.8L478.1 224.9L476.3 226.3L475.2 227.3L474.1 228.7L473.4 229.8L472.9 231.1L472.8 232.5ZM503.1 172.6L504.7 172.7L504.7 97.1L488.2 98.1L473.2 99.3L459.5 100.5L446.8 101.8L435.7 103.3L425.7 104.8L416.7 106.5L412.2 107.5L408.2 108.4L404.5 109.4L400.8 110.5L397.5 111.6L394.5 112.7L391.6 113.8L388.7 115.1L386 116.5L383.7 117.8L381.6 119.2L379.4 120.8L377.8 122.2L376.2 123.8L374.8 125.4L373.7 127L372.9 128.7L372.1 130.6L371.6 132.5L371.5 133.5L371.4 134.6L371.4 135.7L371.5 136.8L371.9 138.7L372.3 139.8L372.7 140.9L373.7 142.8L375 144.7L376.7 146.6L378.7 148.5L380.8 150.1L383.2 151.7L386 153.3L389.1 154.9L392.4 156.3L395.9 157.7L399.6 158.9L403.5 160.1L407.7 161.2L412.2 162.3L417.2 163.4L422.2 164.4L427.7 165.3L433.7 166.2L439.7 167.1L446.2 167.9L453.2 168.7L468.2 170.1L484.7 171.4ZM503.7 54.7L504.7 54.9L504.7 35.9L472.9 35.9L472.8 37.3L472.9 38.7L473.4 40L474.1 41.1L475.2 42.5L476.3 43.5L478.1 44.9L479.7 46L482.2 47.3L484.4 48.4L487 49.5L489.8 50.6L493 51.7L496.6 52.8Z" fill="#00928D" fill-rule="evenodd"/>
<path d="M493.2 233.6L493.2 233.9L504.7 233.9L504.7 222L501.9 223.3L499.4 224.6L497.4 226L496.3 226.8L495.5 227.6L494.3 229L493.8 229.8L493.4 230.6L493.2 231.1L493.1 232L493.1 232.8ZM501.4 169.1L504.7 169.3L504.7 100.5L491.7 101.6L479.2 102.7L468 104L457.6 105.3L448.2 106.8L439.5 108.3L431.7 110L427.7 110.9L424.2 111.9L417.8 113.8L414.7 114.8L411.8 115.9L409.2 117L406.9 118.1L404.7 119.2L402.4 120.5L400.6 121.7L398.8 123L397.2 124.3L395.8 125.7L394.7 127L393.7 128.4L392.9 129.7L392.3 131.4L391.8 133L391.7 134.6L391.7 135.7L391.8 136.5L392.2 138.2L392.8 139.8L393.7 141.4L394.9 143L396.4 144.7L398.1 146.3L399.9 147.6L401.9 149L404.3 150.4L406.9 151.7L409.9 153.1L413.2 154.4L416.2 155.5L419.5 156.6L423.2 157.7L427.3 158.8L431.7 159.8L436.2 160.8L440.7 161.7L450.3 163.4L461.5 165L473.2 166.4L486.7 167.8ZM504.2 47.6L504.7 47.8L504.7 35.9L493.2 35.9L493.1 36.8L493.1 37.6L493.2 38.4L493.3 38.9L493.7 39.7L494.1 40.6L495.2 41.9L496 42.7L497 43.5L499 44.9L501.3 46.2Z" fill="#00A686" fill-rule="evenodd"/>
<path d="M502.5 165.5L504.7 165.8L504.7 104L494.7 105.1L484.7 106.3L475.8 107.5L467.1 108.9L459.5 110.2L452.2 111.7L445.7 113.3L439.7 115L434.2 116.7L429.2 118.6L425 120.5L423 121.6L421.1 122.7L419.5 123.8L418 124.9L416.7 126L415.6 127L414.7 128.1L413.9 129.2L413.2 130.3L412.6 131.6L412.2 133L412 134.4L412 135.7L412.2 137.1L412.7 138.4L413.3 139.8L414.2 141.1L415.4 142.5L416.7 143.8L418.4 145.2L420.2 146.5L422 147.6L424.5 149L426.7 150.1L429.2 151.2L431.9 152.3L435 153.3L438.3 154.4L445 156.3L452.7 158.2L460.7 159.8L469.7 161.4L479.6 162.8L490.2 164.2Z" fill="#01B976" fill-rule="evenodd"/>
<path d="M503.4 161.7L504.7 161.9L504.7 107.9L496.7 109L489.2 110.1L482.1 111.3L475.7 112.5L470 113.8L464.2 115.2L459.2 116.5L454.2 118.1L449.7 119.7L446.2 121.2L442.6 123L439.8 124.6L437.5 126.2L436.6 127L435.4 128.1L434.7 129L433.9 130L433.4 130.8L432.8 131.9L432.5 133L432.3 134.1L432.2 135.4L432.4 136.5L432.7 137.6L433.2 138.7L433.9 139.8L434.7 140.9L435.7 141.9L436.9 143L438.3 144.1L439.8 145.2L441.6 146.3L443.6 147.4L445.7 148.4L447.7 149.3L452.6 151.2L457.6 152.8L463.3 154.4L470.2 156.1L477.7 157.7L485.2 159L493.7 160.4Z" fill="#16C35B" fill-rule="evenodd"/>
<path d="M503.5 157.4L504.7 157.6L504.7 112.2L499 113.2L494.2 114.1L489.6 115.1L485 116.2L480.7 117.3L476.9 118.4L473.2 119.5L469.6 120.8L466.7 122L463.9 123.2L461.3 124.6L459 126L457.2 127.3L455.6 128.7L454.4 130L453.8 130.8L453.3 131.6L453 132.5L452.7 133.5L452.5 134.4L452.5 135.4L452.7 136.5L453 137.3L453.3 138.2L453.8 139L454.6 140.1L455.4 140.9L457.2 142.5L458.6 143.6L459.9 144.4L462.8 146L466.3 147.6L470.4 149.3L474.7 150.7L479.7 152.2L485 153.6L490.9 155L497.2 156.3Z" fill="#77CA36" fill-rule="evenodd"/>
<path d="M503.7 152.3L504.7 152.5L504.7 117.3L498.7 118.8L493.7 120.3L489.1 121.9L484.7 123.7L481.1 125.4L478.5 127L477.2 127.9L476 128.9L475.2 129.7L474.3 130.8L473.4 132.2L472.9 133.5L472.8 134.4L472.8 135.2L473 136.5L473.3 137.3L473.7 138.2L474.7 139.5L476 140.9L477.7 142.2L479.7 143.6L482.2 144.9L485 146.3L487.7 147.4L491.2 148.7L494.7 149.8L499.2 151.1Z" fill="#C0DA06" fill-rule="evenodd"/>
<path d="M504.2 145.2L504.7 145.4L504.7 124.4L502.2 125.5L499.9 126.8L497.7 128.1L496 129.5L494.7 130.8L493.8 132.2L493.5 132.7L493.2 133.5L493.1 134.1L493.1 134.9L493.1 135.7L493.2 136.3L493.5 137.1L493.8 137.6L494.7 139L495.7 140.1L497.4 141.4L499.4 142.8L501.7 144Z" fill="#FFE800" fill-rule="evenodd"/>
<path d="M330.9 233.9L330.8 232.2L330.9 230.6L331.2 227.6L331.8 224.6L332.7 221.9L333.9 219.2L334.6 217.9L335.4 216.5L337.1 214.1L339 211.9L341.1 209.9L343.6 208L346.3 206.2L349.3 204.6L352.6 203L356.3 201.6L360.4 200.2L364.6 199L369.1 197.9L374.1 196.9L379.6 195.9L385.3 195.1L391.6 194.3L398.6 193.5L405.7 192.8L413.7 192.1L421.9 191.6L431.2 191L452.2 190L476.2 189.1L504.7 188.3M504.7 194.7L486.7 195.8L470.7 197.1L456.2 198.4L442.7 199.9L436.3 200.8L430.7 201.6L425.2 202.5L420.2 203.4L415.7 204.3L410.8 205.4L406.5 206.5L402.6 207.6L398.6 208.8L395.2 210L391.7 211.4L388.7 212.7L386 214.1L383.2 215.7L380.8 217.3L378.7 218.9L377 220.6L375.3 222.5L374.1 224.1L373 226L372.2 227.9L371.7 229.8L371.4 231.7L371.4 232.8L371.5 233.9M504.7 81.5L476.2 80.7L452.2 79.8L431.2 78.8L421.9 78.2L413.7 77.7L405.7 77L398.6 76.3L391.6 75.5L385.3 74.7L379.6 73.9L374.1 72.9L369.1 71.9L364.6 70.8L360.4 69.6L356.3 68.2L352.6 66.8L349.3 65.2L346.3 63.6L343.6 61.8L341.1 59.9L339 57.9L337.1 55.7L335.4 53.3L334.6 51.9L333.9 50.6L332.7 47.9L331.8 45.2L331.2 42.2L330.9 39.2L330.8 37.6L330.9 35.9M371.5 35.9L371.4 37L371.4 38.1L371.7 40L372.2 41.9L373 43.8L374.1 45.7L375.3 47.3L377 49.2L378.7 50.9L380.8 52.5L383.2 54.1L386 55.7L388.7 57.1L391.7 58.4L395.2 59.8L398.6 61L402.6 62.2L406.5 63.3L410.8 64.4L415.7 65.5L420.2 66.4L425.2 67.3L430.7 68.2L436.3 69L442.7 69.9L456.2 71.4L470.7 72.7L486.7 74L504.7 75.1M310.6 233.9L310.6 229.2L310.9 224.9L311.3 220.8L312 217L312.8 213.5L313.8 210.5L314.4 208.9L315 207.6L316.4 205.1L317.9 202.9L318.8 201.9L319.8 200.8L321.7 199.2L322.8 198.3L324.1 197.5L326.6 196.1L329.6 194.7L333.1 193.5L336.6 192.5L340.6 191.6L345.1 190.8L350.1 190.1L356.1 189.4L362.6 188.8L369.6 188.3L377.6 187.8L386.1 187.4L406.7 186.7L432.7 186.1L464.7 185.6L504.7 185.2M504.7 198.1L490.2 199.3L477.2 200.6L464.7 202L453.7 203.5L443.7 205.2L438.7 206.1L434.2 207L430.2 207.9L426.2 208.9L422.3 210L418.7 211.1L415.2 212.3L411.8 213.5L409.2 214.6L406.3 216L403.8 217.3L401.5 218.7L399.6 220L397.8 221.4L396.4 222.7L394.9 224.4L393.9 225.7L392.9 227.3L392.3 229L391.8 230.6L391.7 232.2L391.8 233.9M504.7 84.6L464.7 84.2L432.7 83.7L406.7 83.1L386.1 82.4L377.6 82L369.6 81.5L362.6 81L356.1 80.4L350.1 79.7L345.1 79L340.6 78.2L336.6 77.3L333.1 76.3L329.6 75.1L326.6 73.7L324.1 72.3L322.8 71.5L321.7 70.6L319.8 69L318.8 67.9L317.9 66.9L316.4 64.7L315 62.2L314.4 60.9L313.8 59.3L312.8 56.3L312 52.8L311.3 49L310.9 44.9L310.6 40.6L310.6 35.9M391.8 35.9L391.7 37.6L391.8 39.2L392.3 40.8L392.9 42.5L393.9 44.1L394.9 45.4L396.4 47.1L397.8 48.4L399.6 49.8L401.5 51.1L403.8 52.5L406.3 53.8L409.2 55.2L411.8 56.3L415.2 57.5L418.7 58.7L422.3 59.8L426.2 60.9L430.2 61.9L434.2 62.8L438.7 63.7L443.7 64.6L453.7 66.3L464.7 67.8L477.2 69.2L490.2 70.5L504.7 71.7M504.7 201.6L492.7 202.9L482.2 204.2L472.1 205.7L463.2 207.2L454.7 208.8L447.1 210.5L440.1 212.4L434.2 214.3L431.2 215.4L428.6 216.5L426.2 217.6L424 218.7L422 219.8L420.3 220.8L418.7 222L417 223.3L415.9 224.4L414.7 225.7L413.7 227.1L412.9 228.4L412.4 229.8L412.1 231.1L412 232.5L412.1 233.9M504.7 87.6L465.2 88L433.2 88.5L407.2 89.1L386.6 89.8L378.1 90.2L370.1 90.6L363.1 91.1L356.6 91.7L350.6 92.4L345.6 93.1L341.1 93.9L337.1 94.8L333.2 95.9L330.1 96.9L327.1 98.2L324.6 99.5L323.1 100.5L322.1 101.2L320.1 102.9L318.3 104.8L316.7 107L315.3 109.4L314.1 112.1L313 115.1L312.1 118.6L311.5 122.2L311 126.2L310.7 130.6L310.6 134.9L310.7 139.2L311 143.6L311.5 147.6L312.1 151.2L313 154.7L314.1 157.7L315.3 160.4L316.7 162.8L318.3 165L320.1 166.9L322.1 168.6L323.1 169.3L324.6 170.3L327.1 171.6L330.1 172.9L333.2 173.9L337.1 175L341.1 175.9L345.6 176.7L350.6 177.4L356.6 178.1L363.1 178.7L370.1 179.2L378.1 179.6L386.6 180L407.2 180.7L433.2 181.3L465.2 181.8L504.7 182.2M412.1 35.9L412 37.3L412.1 38.7L412.4 40L412.9 41.4L413.7 42.7L414.7 44.1L415.9 45.4L417 46.5L418.7 47.8L420.3 49L422 50L424 51.1L426.2 52.2L428.6 53.3L431.2 54.4L434.2 55.5L440.1 57.4L447.1 59.3L454.7 61L463.2 62.6L472.1 64.1L482.2 65.6L492.7 66.9L504.7 68.2M504.7 205.5L495.5 206.7L487.2 208L479.2 209.5L472.5 210.8L466.2 212.3L460.2 213.8L454.7 215.5L449.7 217.3L445.3 219.2L443.6 220L441.6 221.1L440.2 222L438.6 223L437.2 224.1L436 225.2L434.9 226.3L434.1 227.3L433.4 228.4L432.8 229.5L432.5 230.6L432.3 231.7L432.2 232.8L432.4 233.9M504.7 90.7L476.7 91.5L452.7 92.3L432.2 93.3L422.7 93.9L414.2 94.5L406.7 95.1L399.1 95.8L392.1 96.6L386.1 97.4L380.6 98.2L375.1 99.1L369.8 100.2L365.2 101.3L361.1 102.4L357 103.7L353.5 105.1L350.1 106.6L347.1 108.1L344.2 110L341.7 111.9L339.6 113.8L337.6 115.9L335.9 118.1L334.4 120.5L333.1 123.2L332.1 126L331.4 128.9L331 131.9L330.8 134.9L331 137.9L331.4 140.9L332.1 143.8L333.1 146.6L334.4 149.3L335.9 151.7L337.6 153.9L339.6 156L341.7 157.9L344.2 159.8L347.1 161.7L350.1 163.2L353.5 164.7L357 166.1L361.1 167.4L365.2 168.5L369.8 169.6L375.1 170.7L380.6 171.6L386.1 172.4L392.1 173.2L399.1 174L406.7 174.7L414.2 175.3L422.7 175.9L432.2 176.5L452.7 177.5L476.7 178.3L504.7 179.1M432.4 35.9L432.2 37L432.3 38.1L432.5 39.2L432.8 40.3L433.4 41.4L434.1 42.5L434.9 43.5L436 44.6L437.2 45.7L438.6 46.8L440.2 47.8L441.6 48.7L443.6 49.8L445.3 50.6L449.7 52.5L454.7 54.3L460.2 56L466.2 57.5L472.5 59L479.2 60.3L487.2 61.8L495.5 63.1L504.7 64.3M504.7 209.8L498.2 210.9L492.1 212.2L486.2 213.5L481.2 214.8L476 216.2L471.9 217.6L468.2 218.9L464.7 220.5L461.3 222.2L458.7 223.8L456.5 225.5L455.6 226.3L454.9 227.1L454.2 227.9L453.6 228.7L453.2 229.5L452.9 230.3L452.7 231.1L452.5 232L452.5 233L452.7 233.9M504.7 93.9L483.2 94.8L463.7 95.9L446.2 97.1L431.2 98.5L424.2 99.2L417.7 100L411.7 100.8L405.7 101.7L400.3 102.6L395.1 103.6L390.6 104.6L386.1 105.8L381.9 107L377.7 108.3L374.1 109.7L370.9 111L368.1 112.4L365.1 114.1L362.6 115.7L360.2 117.5L358.1 119.4L356.4 121.3L354.7 123.5L353.4 125.7L352.5 127.9L352.1 128.9L351.7 130.3L351.3 132.5L351.1 134.9L351.3 137.3L351.7 139.5L352.1 140.9L352.5 141.9L353.4 144.1L354.7 146.3L356.4 148.5L358.1 150.4L360.2 152.3L362.6 154.1L365.1 155.7L368.1 157.4L370.9 158.8L374.1 160.1L377.7 161.5L381.9 162.8L386.1 164L390.6 165.2L395.1 166.2L400.3 167.2L405.7 168.1L411.7 169L417.7 169.8L424.2 170.6L431.2 171.3L446.2 172.7L463.7 173.9L483.2 175L504.7 175.9M452.7 35.9L452.5 36.8L452.5 37.8L452.7 38.7L452.9 39.5L453.2 40.3L453.6 41.1L454.2 41.9L454.9 42.7L455.6 43.5L456.5 44.3L458.7 46L461.3 47.6L464.7 49.3L468.2 50.9L471.9 52.2L476 53.6L481.2 55L486.2 56.3L492.1 57.6L498.2 58.9L504.7 60M504.7 214.9L500.5 216L496.6 217L493 218.1L489.8 219.2L487 220.3L484.4 221.4L482.2 222.5L479.7 223.8L478.1 224.9L476.3 226.3L475.2 227.3L474.1 228.7L473.4 229.8L472.9 231.1L472.8 232.5L472.9 233.9M504.7 97.1L487.2 98.2L471.2 99.4L456.8 100.7L443.7 102.2L437.7 103L431.7 103.8L426.2 104.7L421.2 105.6L416.7 106.5L412 107.5L407.5 108.6L403.7 109.7L399.9 110.8L396.1 112L393.1 113.2L389.9 114.6L387.1 115.9L384.1 117.5L382 118.9L379.7 120.5L377.8 122.2L376.2 123.8L374.8 125.4L373.6 127.3L372.6 129.2L371.9 131.1L371.5 133L371.4 134.9L371.5 136.8L371.9 138.7L372.6 140.6L373.6 142.5L374.8 144.4L376.2 146L377.8 147.6L379.7 149.3L382 150.9L384.1 152.3L387.1 153.9L389.9 155.2L393.1 156.6L396.1 157.8L399.9 159L403.7 160.1L407.5 161.2L412 162.3L416.7 163.3L421.2 164.2L426.2 165.1L431.7 166L437.7 166.8L443.7 167.6L456.8 169.1L471.2 170.4L487.2 171.6L504.7 172.7M472.9 35.9L472.8 37.3L472.9 38.7L473.4 40L474.1 41.1L475.2 42.5L476.3 43.5L478.1 44.9L479.7 46L482.2 47.3L484.4 48.4L487 49.5L489.8 50.6L493 51.7L496.6 52.8L500.5 53.8L504.7 54.9M504.7 222L501.7 223.4L499 224.9L497 226.3L496 227.1L495.2 227.9L494.1 229.2L493.7 230.1L493.3 230.9L493.2 231.4L493.1 232.2L493.1 233L493.2 233.9M504.7 100.5L490.7 101.6L477.6 102.9L465.7 104.3L454.7 105.8L444.7 107.4L435.7 109.1L431.8 110L427.7 110.9L424.2 111.9L420.4 112.9L417 114L413.9 115.1L411.1 116.2L408 117.5L405.7 118.7L403.3 120L401.1 121.3L399.2 122.7L397.5 124.1L395.8 125.7L394.7 127L393.5 128.7L392.8 130L392.2 131.6L391.8 133.3L391.7 134.9L391.8 136.5L392.2 138.2L392.8 139.8L393.5 141.1L394.7 142.8L395.8 144.1L397.5 145.7L399.2 147.1L401.1 148.5L403.3 149.8L405.7 151.1L408 152.3L411.1 153.6L413.9 154.7L417 155.8L420.4 156.9L424.2 157.9L427.7 158.9L431.8 159.8L435.7 160.7L444.7 162.4L454.7 164L465.7 165.5L477.6 166.9L490.7 168.2L504.7 169.3M493.2 35.9L493.1 36.8L493.1 37.6L493.2 38.4L493.3 38.9L493.7 39.7L494.1 40.6L495.2 41.9L496 42.7L497 43.5L499 44.9L501.7 46.4L504.7 47.8M504.7 104L493.2 105.3L482.7 106.6L472.7 108L464 109.4L455.5 111L448.2 112.7L441.7 114.4L435.8 116.2L430.5 118.1L427.9 119.2L425.6 120.3L423.5 121.3L421.6 122.4L419.9 123.5L418 124.9L416.7 126L415.4 127.3L414.4 128.4L413.5 129.7L412.9 130.8L412.4 132.2L412.1 133.5L412 134.9L412.1 136.3L412.4 137.6L412.9 139L413.5 140.1L414.4 141.4L415.4 142.5L416.7 143.8L418 144.9L419.9 146.3L421.6 147.4L423.5 148.5L425.6 149.5L427.9 150.6L430.5 151.7L435.8 153.6L441.7 155.4L448.2 157.1L455.5 158.8L464 160.4L472.7 161.8L482.7 163.2L493.2 164.5L504.7 165.8M504.7 107.9L496.2 109L488.5 110.2L480.6 111.6L473.8 112.9L467.2 114.4L461.3 115.9L455.8 117.5L451.1 119.2L447.1 120.8L445.2 121.7L443.1 122.7L441.6 123.5L439.8 124.6L438.6 125.4L437.2 126.5L436.2 127.4L435.2 128.4L434.3 129.5L433.5 130.6L433 131.6L432.6 132.7L432.3 133.8L432.2 134.9L432.3 136L432.6 137.1L433 138.2L433.5 139.2L434.3 140.3L435.2 141.4L436.2 142.4L437.2 143.3L438.6 144.4L439.8 145.2L441.6 146.3L443.1 147.1L445.2 148.1L447.1 149L451.1 150.6L455.8 152.3L461.3 153.9L467.2 155.4L473.8 156.9L480.6 158.2L488.5 159.6L496.2 160.8L504.7 161.9M504.7 112.2L499 113.2L493.2 114.3L487.7 115.5L482.7 116.8L477.8 118.1L473.5 119.4L469.6 120.8L466.3 122.2L463.2 123.6L460.3 125.1L457.9 126.8L455.9 128.4L455.1 129.2L454.4 130L453.8 130.8L453.3 131.6L453 132.5L452.7 133.3L452.6 134.1L452.5 134.9L452.6 135.7L452.7 136.5L453 137.3L453.3 138.2L453.8 139L454.4 139.8L455.1 140.6L455.9 141.4L457.9 143L460.3 144.7L463.2 146.2L466.3 147.6L469.6 149L473.5 150.4L477.8 151.7L482.7 153L487.7 154.3L493.2 155.5L499 156.6L504.7 157.6M504.7 117.3L497.5 119.2L494.2 120.2L491.4 121.1L488.4 122.2L485.7 123.2L483.3 124.3L481.1 125.4L479.3 126.5L477.7 127.6L476.3 128.7L474.9 130L474.1 131.1L473.3 132.5L472.9 133.5L472.8 134.9L472.9 136.3L473.3 137.3L474.1 138.7L474.9 139.8L476.3 141.1L477.7 142.2L479.3 143.3L481.1 144.4L483.3 145.5L485.7 146.6L488.4 147.6L491.4 148.7L494.2 149.6L497.5 150.6L504.7 152.5M504.7 124.4L502.2 125.5L499.9 126.8L497.7 128.1L496 129.5L494.7 130.8L493.8 132.2L493.5 132.7L493.2 133.5L493.1 134.1L493.1 134.9L493.1 135.7L493.2 136.3L493.5 137.1L493.8 137.6L494.7 139L496 140.3L497.7 141.7L499.9 143L502.2 144.3L504.7 145.4" fill="none" stroke="#000" stroke-width="0.75" stroke-linejoin="round"/>
<path d="M320.7 233.9L320.8 230.3L321 226.8L321.6 223.3L322.5 220L323.5 217L324.2 215.4L324.9 214.1L326.3 211.6L327.3 210.3L328.2 209.2L330.2 207L332.3 205.1L334.9 203.2L337.7 201.6L340.6 200.1L344.1 198.7L348.1 197.3L352.1 196.2L356.6 195.2L361.6 194.2L367.1 193.3L372.6 192.5L379.1 191.8L386.1 191.1L393.6 190.5L402.1 189.9L411.7 189.4L421.7 188.9L444.7 188.1L472.2 187.4L504.7 186.8M504.7 196.4L488.7 197.5L473.7 198.8L460.2 200.2L448.2 201.8L442.2 202.6L436.8 203.5L432.2 204.3L427.2 205.3L422.7 206.2L418.3 207.3L414.2 208.4L410.7 209.4L407.1 210.5L403.7 211.8L400.7 213L397.6 214.4L395.1 215.7L392.3 217.3L390.1 218.8L388.2 220.3L386.5 221.9L385 223.6L383.8 225.2L382.9 226.8L382.2 228.4L381.7 230.3L381.5 232L381.6 233.9M504.7 83L472.2 82.4L444.7 81.7L421.7 80.9L411.7 80.4L402.1 79.9L393.6 79.3L386.1 78.7L379.1 78L372.6 77.3L367.1 76.5L361.6 75.6L356.6 74.6L352.1 73.6L348.1 72.5L344.1 71.1L340.6 69.7L337.7 68.2L334.9 66.6L332.3 64.7L330.2 62.8L328.2 60.6L327.3 59.5L326.3 58.2L324.9 55.7L324.2 54.4L323.5 52.8L322.5 49.8L321.6 46.5L321 43L320.8 39.5L320.7 35.9M381.6 35.9L381.5 37.8L381.7 39.5L382.2 41.4L382.9 43L383.8 44.6L385 46.2L386.5 47.9L388.2 49.5L390.1 51L392.3 52.5L395.1 54.1L397.6 55.4L400.7 56.8L403.7 58L407.1 59.3L410.7 60.4L414.2 61.4L418.3 62.5L422.7 63.6L427.2 64.5L432.2 65.5L436.8 66.3L442.2 67.2L448.2 68L460.2 69.6L473.7 71L488.7 72.3L504.7 73.4" fill="none" stroke="#FF0A2A" stroke-width="0.8" stroke-linejoin="round"/>
<path d="M299.1 34.3H506.2V235.5H299.1ZM302.1 37.3V232.5H503.2V37.3Z" fill="#fff" fill-rule="evenodd"/>
<text x="302.6" y="31.60" font-size="9.8" fill="#000" stroke="#000" stroke-width="0.22">(b) Uncertainty Due to Anenemometer Wind Speed</text>
<line x1="299.9" x2="302.1" y1="208.10" y2="208.10" stroke="#333" stroke-width="0.7"/>
<text x="299.0" y="210.50" font-size="8.4" fill="#4D4D4D" stroke="#4D4D4D" stroke-width="0.15" text-anchor="end">45</text>
<line x1="299.9" x2="302.1" y1="183.70" y2="183.70" stroke="#333" stroke-width="0.7"/>
<text x="299.0" y="185.70" font-size="8.4" fill="#4D4D4D" stroke="#4D4D4D" stroke-width="0.15" text-anchor="end">90</text>
<line x1="299.9" x2="302.1" y1="159.30" y2="159.30" stroke="#333" stroke-width="0.7"/>
<text x="299.0" y="161.30" font-size="8.4" fill="#4D4D4D" stroke="#4D4D4D" stroke-width="0.15" text-anchor="end">135</text>
<line x1="299.9" x2="302.1" y1="134.90" y2="134.90" stroke="#333" stroke-width="0.7"/>
<text x="299.0" y="136.90" font-size="8.4" fill="#4D4D4D" stroke="#4D4D4D" stroke-width="0.15" text-anchor="end">180</text>
<line x1="299.9" x2="302.1" y1="110.50" y2="110.50" stroke="#333" stroke-width="0.7"/>
<text x="299.0" y="112.50" font-size="8.4" fill="#4D4D4D" stroke="#4D4D4D" stroke-width="0.15" text-anchor="end">225</text>
<line x1="299.9" x2="302.1" y1="86.10" y2="86.10" stroke="#333" stroke-width="0.7"/>
<text x="299.0" y="88.10" font-size="8.4" fill="#4D4D4D" stroke="#4D4D4D" stroke-width="0.15" text-anchor="end">270</text>
<line x1="299.9" x2="302.1" y1="61.70" y2="61.70" stroke="#333" stroke-width="0.7"/>
<text x="299.0" y="63.70" font-size="8.4" fill="#4D4D4D" stroke="#4D4D4D" stroke-width="0.15" text-anchor="end">315</text>
<text x="299.0" y="39.70" font-size="8.4" fill="#4D4D4D" stroke="#4D4D4D" stroke-width="0.15" text-anchor="end">360</text>
<text x="299.6" y="242.9" font-size="8.4" fill="#4D4D4D" stroke="#4D4D4D" stroke-width="0.15" text-anchor="middle">0</text>
<text x="351.8" y="242.9" font-size="8.4" fill="#4D4D4D" stroke="#4D4D4D" stroke-width="0.15" text-anchor="middle">5</text>
<text x="402.8" y="242.9" font-size="8.4" fill="#4D4D4D" stroke="#4D4D4D" stroke-width="0.15" text-anchor="middle">10</text>
<text x="453.5" y="242.9" font-size="8.4" fill="#4D4D4D" stroke="#4D4D4D" stroke-width="0.15" text-anchor="middle">15</text>
<text x="506.4" y="242.9" font-size="8.4" fill="#1a1a1a" stroke="#1a1a1a" stroke-width="0.3" text-anchor="middle">20</text>
<line x1="503.2" x2="503.2" y1="232.5" y2="234.4" stroke="#333" stroke-width="0.6"/>
<rect x="516.1" y="201.25" width="11.0" height="11.35" fill="#50065A"/>
<rect x="516.1" y="189.00" width="11.0" height="11.35" fill="#521973"/>
<rect x="516.1" y="176.75" width="11.0" height="11.35" fill="#473686"/>
<rect x="516.1" y="164.50" width="11.0" height="11.35" fill="#29518E"/>
<rect x="516.1" y="152.25" width="11.0" height="11.35" fill="#006890"/>
<rect x="516.1" y="140.00" width="11.0" height="11.35" fill="#007D90"/>
<rect x="516.1" y="127.75" width="11.0" height="11.35" fill="#00928D"/>
<rect x="516.1" y="115.50" width="11.0" height="11.35" fill="#00A686"/>
<rect x="516.1" y="103.25" width="11.0" height="11.35" fill="#01B976"/>
<rect x="516.1" y="91.00" width="11.0" height="11.35" fill="#16C35B"/>
<rect x="516.1" y="78.75" width="11.0" height="11.35" fill="#77CA36"/>
<rect x="516.1" y="66.50" width="11.0" height="11.35" fill="#C0DA06"/>
<rect x="516.1" y="54.25" width="11.0" height="11.35" fill="#FFE800"/>
<text x="537.6" y="215.50" font-size="7.5" fill="#000" stroke="#000" stroke-width="0.15" text-anchor="end">0</text>
<text x="537.6" y="203.32" font-size="7.5" fill="#000" stroke="#000" stroke-width="0.15" text-anchor="end">2</text>
<text x="537.6" y="191.14" font-size="7.5" fill="#000" stroke="#000" stroke-width="0.15" text-anchor="end">4</text>
<text x="537.6" y="178.96" font-size="7.5" fill="#000" stroke="#000" stroke-width="0.15" text-anchor="end">6</text>
<text x="537.6" y="166.78" font-size="7.5" fill="#000" stroke="#000" stroke-width="0.15" text-anchor="end">8</text>
<text x="537.6" y="154.60" font-size="7.5" fill="#000" stroke="#000" stroke-width="0.15" text-anchor="end">10</text>
<text x="537.6" y="142.42" font-size="7.5" fill="#000" stroke="#000" stroke-width="0.15" text-anchor="end">12</text>
<text x="537.6" y="130.24" font-size="7.5" fill="#000" stroke="#000" stroke-width="0.15" text-anchor="end">14</text>
<text x="537.6" y="118.06" font-size="7.5" fill="#000" stroke="#000" stroke-width="0.15" text-anchor="end">16</text>
<text x="537.6" y="105.88" font-size="7.5" fill="#000" stroke="#000" stroke-width="0.15" text-anchor="end">18</text>
<text x="537.6" y="93.70" font-size="7.5" fill="#000" stroke="#000" stroke-width="0.15" text-anchor="end">20</text>
<text x="537.6" y="81.52" font-size="7.5" fill="#000" stroke="#000" stroke-width="0.15" text-anchor="end">22</text>
<text x="537.6" y="69.34" font-size="7.5" fill="#000" stroke="#000" stroke-width="0.15" text-anchor="end">24</text>
<text x="537.6" y="57.16" font-size="7.5" fill="#000" stroke="#000" stroke-width="0.15" text-anchor="end">26</text>
<rect x="33.10" y="263.10" width="202.90" height="198.60" fill="#50065A"/>
<path d="M234.1 457.5L236.3 457.5L236.3 365.4L207.4 365.9L182.4 366.4L161 367.1L143 367.9L127.6 368.8L120.6 369.3L114.1 369.9L108.1 370.5L102.7 371.1L97.6 371.8L93.1 372.5L88.7 373.4L84.7 374.3L81 375.2L77.7 376.2L74.4 377.4L71.7 378.5L69.1 379.8L66.7 381.2L64.3 382.8L62.4 384.5L60.7 386.1L59 388L57.5 390.2L56.2 392.4L55 394.8L54.1 397.3L53.5 399.2L53.1 401.1L52.7 403L52.3 405.2L52.1 407.4L52 409.5L51.9 411.7L52 413.9L52.2 416.1L52.4 418L52.7 420.2L53.1 422.1L53.6 424L54.2 425.9L54.9 427.8L55.7 429.4L56.5 431.1L57.3 432.4L58.2 433.8L59.2 435.2L60.4 436.5L61.5 437.6L62.7 438.7L64 439.8L65.2 440.7L66.7 441.7L68.2 442.6L70.1 443.6L73.7 445.2L77.5 446.6L81.7 447.9L86.5 449.1L91.6 450.1L97.1 451L103.6 451.9L110.6 452.7L118.1 453.4L126.6 454L136 454.6L146 455.2L157.5 455.7L170 456.1L198.9 456.9ZM234.1 359.4L236.3 359.4L236.3 267.3L207.4 267.8L182.4 268.3L161 269L143 269.8L127.6 270.7L120.6 271.2L114.1 271.8L108.1 272.4L102.7 273L97.6 273.7L93.1 274.4L88.7 275.3L84.7 276.2L81 277.1L77.7 278.1L74.4 279.3L71.7 280.4L69.1 281.7L66.7 283.1L64.3 284.7L62.4 286.4L60.7 288L59 289.9L57.5 292.1L56.2 294.3L55 296.7L54.1 299.2L53.5 301.1L53.1 303L52.7 304.9L52.3 307.1L52.1 309.3L52 311.4L51.9 313.6L52 315.8L52.2 318L52.4 319.9L52.7 322.1L53.1 324L53.6 325.9L54.2 327.8L54.9 329.7L55.7 331.3L56.5 333L57.3 334.3L58.2 335.7L59.2 337.1L60.4 338.4L61.5 339.5L62.7 340.6L64 341.7L65.2 342.6L66.7 343.6L68.2 344.5L70.1 345.5L73.7 347.1L77.5 348.5L81.7 349.8L86.5 351L91.6 352L97.1 352.9L103.6 353.8L110.6 354.6L118.1 355.3L126.6 355.9L136 356.5L146 357.1L157.5 357.6L170 358L198.9 358.8Z" fill="#511F78" fill-rule="evenodd"/>
<path d="M235 454.5L236.3 454.5L236.3 368.4L213.4 369.1L192.9 370L175 371L159 372.1L145 373.4L138.5 374.1L132.6 374.8L127.1 375.6L121.6 376.4L116.6 377.3L112.3 378.2L108.1 379.2L104.1 380.2L100.1 381.4L96.6 382.6L93.3 383.9L90.3 385.3L87.7 386.7L85 388.3L82.7 389.9L80.7 391.6L78.7 393.5L77 395.4L75.6 397.3L74.3 399.5L73.2 401.6L72.3 404.1L72 405.5L71.6 407.1L71.4 408.5L71.3 410.1L71.2 411.7L71.3 413.1L71.5 414.7L71.7 416.1L72 417.7L72.4 419.1L72.9 420.4L73.5 421.8L74.1 423.2L74.9 424.5L75.7 425.8L76.6 427L77.7 428.3L78.7 429.4L81 431.6L83.4 433.5L86.3 435.4L89.7 437.3L93.1 438.9L96.8 440.3L101.1 441.8L105.5 443.1L110.1 444.2L115.6 445.4L121.1 446.4L127.1 447.3L133.6 448.2L140.5 449.1L148.5 449.9L156.5 450.6L165.5 451.3L175 451.9L185.4 452.5L208.4 453.6ZM235 356.4L236.3 356.4L236.3 270.3L213.4 271L192.9 271.9L175 272.9L159 274L145 275.3L138.5 276L132.6 276.7L127.1 277.5L121.6 278.3L116.6 279.2L112.3 280.1L108.1 281.1L104.1 282.1L100.1 283.3L96.6 284.5L93.3 285.8L90.3 287.2L87.7 288.6L85 290.2L82.7 291.8L80.7 293.5L78.7 295.4L77 297.3L75.6 299.2L74.3 301.4L73.2 303.5L72.3 306L72 307.4L71.6 309L71.4 310.4L71.3 312L71.2 313.6L71.3 315L71.5 316.6L71.7 318L72 319.6L72.4 321L72.9 322.3L73.5 323.7L74.1 325.1L74.9 326.4L75.7 327.7L76.6 328.9L77.7 330.2L78.7 331.3L81 333.5L83.4 335.4L86.3 337.3L89.7 339.2L93.1 340.8L96.8 342.2L101.1 343.7L105.5 345L110.1 346.1L115.6 347.3L121.1 348.3L127.1 349.2L133.6 350.1L140.5 351L148.5 351.8L156.5 352.5L165.5 353.2L175 353.8L185.4 354.4L208.4 355.5Z" fill="#3D428A" fill-rule="evenodd"/>
<path d="M230.7 451.2L236.3 451.5L236.3 371.4L217.9 372.3L200.9 373.4L185.4 374.5L172 375.8L159.5 377.2L148.5 378.7L143.5 379.6L139 380.4L134.6 381.3L130 382.3L125.7 383.4L122.1 384.4L118.4 385.6L115.1 386.7L111.8 388L108.8 389.4L106.1 390.7L103.8 392.1L101.6 393.5L99.5 395.1L97.6 396.7L95.8 398.6L94.5 400.3L93.2 402.2L92.2 404.1L91.4 406L90.9 408.2L90.7 409.3L90.6 410.6L90.6 412L90.6 413.1L90.8 414.4L91 415.5L91.7 417.7L92.7 419.9L94.1 422.1L95.8 424.3L97.6 426.2L99.8 428.1L102.5 430L105.2 431.6L108.2 433.2L111.6 434.8L115.3 436.2L119.2 437.6L123.6 438.9L127.8 440.1L132.4 441.2L137.6 442.2L143 443.3L148.5 444.2L155 445.1L161.5 445.9L168.5 446.7L176 447.5L191.9 448.9L210.4 450.1ZM230.7 353.1L236.3 353.4L236.3 273.3L217.9 274.2L200.9 275.3L185.4 276.4L172 277.7L159.5 279.1L148.5 280.6L143.5 281.5L139 282.3L134.6 283.2L130 284.2L125.7 285.3L122.1 286.3L118.4 287.5L115.1 288.6L111.8 289.9L108.8 291.3L106.1 292.6L103.8 294L101.6 295.4L99.5 297L97.6 298.6L95.8 300.5L94.5 302.2L93.2 304.1L92.2 306L91.4 307.9L90.9 310.1L90.7 311.2L90.6 312.5L90.6 313.9L90.6 315L90.8 316.3L91 317.4L91.7 319.6L92.7 321.8L94.1 324L95.8 326.2L97.6 328.1L99.8 330L102.5 331.9L105.2 333.5L108.2 335.2L111.6 336.7L115.3 338.1L119.2 339.5L123.6 340.8L127.8 342L132.4 343.1L137.6 344.1L143 345.2L148.5 346.1L155 347L161.5 347.8L168.5 348.6L176 349.4L191.9 350.8L210.4 352Z" fill="#005F90" fill-rule="evenodd"/>
<path d="M234.4 448.2L236.3 448.4L236.3 374.5L220.9 375.6L206.9 376.7L194.4 377.9L182.6 379.3L172 380.7L162.5 382.3L158 383.1L153.5 384L149.2 385L145.5 385.9L141.8 386.9L138.2 388L135 389.1L132 390.2L129.1 391.4L126.3 392.6L124.1 393.8L121.8 395.1L119.7 396.5L117.8 397.8L116.2 399.2L114.6 400.8L113.2 402.5L112 404.1L111.2 405.7L110.5 407.4L110 409.3L109.9 411.2L109.9 412.3L110 413.4L110.4 415.3L111.2 417.2L112.2 419.1L113.6 421L115.1 422.6L116.8 424.3L118.9 425.9L121.4 427.5L124.1 429.1L126.9 430.5L130 431.9L133.4 433.2L137 434.5L140.9 435.7L144.8 436.8L149.2 437.9L154 439L159 440L164 440.9L169.5 441.8L175.5 442.7L187.9 444.2L201.9 445.7L217.4 447ZM234.4 350.1L236.3 350.3L236.3 276.4L220.9 277.5L206.9 278.6L194.4 279.8L182.6 281.2L172 282.6L162.5 284.2L158 285L153.5 285.9L149.2 286.9L145.5 287.8L141.8 288.8L138.2 289.9L135 291L132 292.1L129.1 293.3L126.3 294.5L124.1 295.7L121.8 297L119.7 298.4L117.8 299.7L116.2 301.1L114.6 302.7L113.2 304.4L112 306L111.2 307.6L110.5 309.3L110 311.2L109.9 313.1L109.9 314.2L110 315.3L110.4 317.2L111.2 319.1L112.2 321L113.6 322.9L115.1 324.5L116.8 326.2L118.9 327.8L121.4 329.4L124.1 331L126.9 332.4L130 333.8L133.4 335.2L137 336.4L140.9 337.6L144.8 338.7L149.2 339.8L154 340.9L159 341.9L164 342.8L169.5 343.7L175.5 344.6L187.9 346.1L201.9 347.6L217.4 348.9Z" fill="#007991" fill-rule="evenodd"/>
<path d="M234.9 445L236.3 445.1L236.3 377.8L223.8 378.9L212.3 380.1L201.4 381.4L191.9 382.7L182.9 384.2L175 385.7L167.5 387.3L160.5 389.1L154.3 391L151.2 392.1L148.5 393.1L145.8 394.3L143.5 395.4L141.5 396.5L139.6 397.6L137.9 398.6L136 400L134.7 401.1L133.3 402.5L132.1 403.8L131.1 405.2L130.4 406.5L129.8 407.9L129.3 409.5L129.2 411.2L129.3 412.8L129.6 414.4L130.2 416.1L131.1 417.7L132.3 419.4L133.6 420.7L135.4 422.4L137.1 423.7L139.1 425.1L141.5 426.4L144 427.8L146.5 428.9L149.5 430.2L152.7 431.3L156 432.4L159.6 433.5L163.6 434.6L167.5 435.6L171.6 436.5L176.5 437.5L185.9 439.2L196.4 440.8L207.9 442.3L220.9 443.7ZM234.9 346.9L236.3 347L236.3 279.7L223.8 280.8L212.3 282L201.4 283.3L191.9 284.6L182.9 286.1L175 287.6L167.5 289.2L160.5 291L154.3 292.9L151.2 294L148.5 295L145.8 296.2L143.5 297.3L141.5 298.4L139.6 299.5L137.9 300.5L136 301.9L134.7 303L133.3 304.4L132.1 305.7L131.1 307.1L130.4 308.4L129.8 309.8L129.3 311.4L129.2 313.1L129.3 314.7L129.6 316.3L130.2 318L131.1 319.6L132.3 321.3L133.6 322.6L135.4 324.2L137.1 325.6L139.1 327L141.5 328.3L144 329.7L146.5 330.8L149.5 332.1L152.7 333.2L156 334.3L159.6 335.4L163.6 336.5L167.5 337.5L171.6 338.4L176.5 339.4L185.9 341.1L196.4 342.7L207.9 344.2L220.9 345.6Z" fill="#00928D" fill-rule="evenodd"/>
<path d="M234.6 441.4L236.3 441.6L236.3 381.3L226.8 382.4L217.4 383.6L209.2 384.7L200.9 386.1L193.7 387.5L186.9 388.9L180.6 390.5L174.9 392.1L170 393.7L165.1 395.6L161 397.6L157.6 399.5L155.9 400.6L154.4 401.6L153.1 402.7L152 403.8L151.1 404.9L150.3 406L149.6 407.1L149.1 408.2L148.7 409.5L148.5 410.9L148.5 412.3L148.7 413.6L149.2 415L149.9 416.4L150.8 417.7L151.8 418.8L153 420.1L154.4 421.3L156.3 422.6L158 423.7L160 424.8L162.5 426.1L165.1 427.3L167.5 428.2L170 429.2L173.2 430.3L179.6 432.2L186.9 434L195 435.7L203.9 437.3L212.9 438.7L222.9 440.1ZM234.6 343.3L236.3 343.5L236.3 283.2L226.8 284.3L217.4 285.5L209.2 286.6L200.9 288L193.7 289.4L186.9 290.8L180.6 292.4L174.9 294L170 295.6L165.1 297.5L161 299.5L157.6 301.4L155.9 302.5L154.4 303.5L153.1 304.6L152 305.7L151.1 306.8L150.3 307.9L149.6 309L149.1 310.1L148.7 311.4L148.5 312.8L148.5 314.2L148.7 315.5L149.2 316.9L149.9 318.3L150.8 319.6L151.8 320.7L153 322L154.4 323.2L156.3 324.5L158 325.6L160 326.7L162.5 328L165.1 329.2L167.5 330.1L170 331.1L173.2 332.2L179.6 334.1L186.9 335.9L195 337.6L203.9 339.2L212.9 340.6L222.9 342Z" fill="#00A983" fill-rule="evenodd"/>
<path d="M234.6 437.6L236.3 437.8L236.3 385.1L229 386.1L222.1 387.2L215.9 388.3L209.4 389.6L204.1 390.7L198.6 392.1L193.8 393.5L189.4 394.8L185.4 396.3L181.7 397.8L178.4 399.5L175.6 401.1L173.2 402.7L172.2 403.5L171.1 404.6L169.7 406.3L169.1 407.1L168.5 408.2L168.1 409.3L167.9 410.4L167.8 411.4L167.9 412.5L168.1 413.6L168.5 414.7L169.1 415.8L169.9 416.9L170.8 418L171.9 419.1L173.2 420.2L174.5 421.1L176 422.1L177.9 423.2L179.9 424.2L181.7 425.1L186.4 427L191.1 428.6L196.6 430.3L203 431.9L209.9 433.4L217.4 434.9L225.4 436.2ZM234.6 339.5L236.3 339.7L236.3 287L229 288L222.1 289.1L215.9 290.2L209.4 291.5L204.1 292.6L198.6 294L193.8 295.4L189.4 296.7L185.4 298.2L181.7 299.7L178.4 301.4L175.6 303L173.2 304.6L172.2 305.4L171.1 306.5L169.7 308.2L169.1 309L168.5 310.1L168.1 311.2L167.9 312.3L167.8 313.4L167.9 314.4L168.1 315.5L168.5 316.6L169.1 317.7L169.9 318.8L170.8 319.9L171.9 321L173.2 322.1L174.5 323L176 324L177.9 325.1L179.9 326.1L181.7 327L186.4 328.9L191.1 330.5L196.6 332.2L203 333.8L209.9 335.3L217.4 336.8L225.4 338.1Z" fill="#07BD6C" fill-rule="evenodd"/>
<path d="M235.7 433.5L236.3 433.6L236.3 389.3L231.4 390.2L226.3 391.2L222.3 392.1L217.8 393.2L213.8 394.3L210.1 395.4L206.4 396.6L203 397.8L200.4 398.9L197.5 400.3L195.4 401.4L193.3 402.7L191.5 404.1L190 405.5L188.8 406.8L187.9 408.2L187.6 409L187.2 410.1L187.1 410.9L187.1 412L187.3 413.1L187.6 413.9L187.9 414.7L188.4 415.5L189.2 416.6L190 417.4L191.8 419.1L194.1 420.7L196.9 422.3L199.9 423.8L203.7 425.3L208.4 427L212.8 428.3L217.8 429.7L223.5 431.1L229.3 432.3ZM235.7 335.4L236.3 335.5L236.3 291.2L231.4 292.1L226.3 293.1L222.3 294L217.8 295.1L213.8 296.2L210.1 297.3L206.4 298.5L203 299.7L200.4 300.8L197.5 302.2L195.4 303.3L193.3 304.6L191.5 306L190 307.4L188.8 308.7L187.9 310.1L187.6 310.9L187.2 312L187.1 312.8L187.1 313.9L187.3 315L187.6 315.8L187.9 316.6L188.4 317.4L189.2 318.5L190 319.3L191.8 321L194.1 322.6L196.9 324.2L199.9 325.7L203.7 327.2L208.4 328.9L212.8 330.2L217.8 331.6L223.5 333L229.3 334.2Z" fill="#43C848" fill-rule="evenodd"/>
<path d="M235.3 428.3L236.3 428.6L236.3 394.3L230.8 395.8L225.9 397.3L221.8 398.7L218.1 400.3L214.8 401.9L212.1 403.5L211 404.4L209.9 405.2L209.1 406L208.1 407.1L207.2 408.5L206.6 409.8L206.4 411.2L206.4 412L206.5 412.8L207 414.2L207.9 415.5L209.1 416.9L210.6 418.3L212.5 419.6L214.8 421L217.4 422.3L220 423.4L223.3 424.7L226.8 425.9L230.8 427.1ZM235.3 330.2L236.3 330.5L236.3 296.2L230.8 297.7L225.9 299.2L221.8 300.6L218.1 302.2L214.8 303.8L212.1 305.4L211 306.3L209.9 307.1L209.1 307.9L208.1 309L207.2 310.4L206.6 311.7L206.4 313.1L206.4 313.9L206.5 314.7L207 316.1L207.9 317.4L209.1 318.8L210.6 320.2L212.5 321.5L214.8 322.9L217.4 324.2L220 325.3L223.3 326.6L226.8 327.8L230.8 329Z" fill="#B3D709" fill-rule="evenodd"/>
<path d="M236.2 421.5L236.3 421.6L236.3 401.3L234 402.5L231.6 403.8L230 404.9L228.4 406.3L227.4 407.4L226.4 408.7L226.2 409.3L225.9 410.1L225.8 410.6L225.7 411.4L225.8 412.3L225.9 412.8L226.2 413.6L226.4 414.2L227.4 415.5L228.4 416.6L230 418L231.6 419.1L233.8 420.4ZM236.2 323.4L236.3 323.5L236.3 303.2L234 304.4L231.6 305.7L230 306.8L228.4 308.2L227.4 309.3L226.4 310.6L226.2 311.2L225.9 312L225.8 312.5L225.7 313.4L225.8 314.2L225.9 314.7L226.2 315.5L226.4 316.1L227.4 317.4L228.4 318.5L230 319.9L231.6 321L233.8 322.3Z" fill="#FFE800" fill-rule="evenodd"/>
<path d="M236.3 365.4L203.4 365.9L176 366.6L153 367.4L143 367.9L133.8 368.4L125.5 368.9L117.6 369.6L110.6 370.2L104.1 370.9L98.6 371.7L93.1 372.5L88.2 373.5L83.7 374.5L79.7 375.6L75.7 376.9L72.2 378.3L69.2 379.8L66.3 381.5L64 383.1L61.8 385L59.7 387.2L58.7 388.4L57.8 389.6L56.3 392.1L55 394.8L53.9 397.8L53.1 401.1L52.4 404.4L52.1 407.9L51.9 411.4L52.1 415L52.4 418.5L53.1 421.8L53.9 425.1L55 428.1L56.3 430.8L57.8 433.2L58.7 434.5L59.7 435.7L61.8 437.9L64 439.8L66.3 441.4L69.2 443.1L72.2 444.6L75.7 446L79.7 447.3L83.7 448.4L88.2 449.4L93.1 450.4L98.6 451.2L104.1 452L110.6 452.7L117.6 453.3L125.5 454L133.8 454.5L143 455L153 455.5L176 456.3L203.4 457L236.3 457.5M236.3 267.3L203.4 267.8L176 268.5L153 269.3L143 269.8L133.8 270.3L125.5 270.8L117.6 271.5L110.6 272.1L104.1 272.8L98.6 273.6L93.1 274.4L88.2 275.4L83.7 276.4L79.7 277.5L75.7 278.8L72.2 280.2L69.2 281.7L66.3 283.4L64 285L61.8 286.9L59.7 289.1L58.7 290.3L57.8 291.6L56.3 294L55 296.7L53.9 299.7L53.1 303L52.4 306.3L52.1 309.8L51.9 313.4L52.1 316.9L52.4 320.4L53.1 323.7L53.9 327L55 330L56.3 332.7L57.8 335.2L58.7 336.4L59.7 337.6L61.8 339.8L64 341.7L66.3 343.3L69.2 345L72.2 346.5L75.7 347.9L79.7 349.2L83.7 350.3L88.2 351.3L93.1 352.3L98.6 353.1L104.1 353.9L110.6 354.6L117.6 355.2L125.5 355.9L133.8 356.4L143 356.9L153 357.4L176 358.2L203.4 358.9L236.3 359.4M236.3 368.4L211.4 369.2L189.4 370.2L170.5 371.3L162 371.9L154 372.5L146.5 373.2L139.5 373.9L133.1 374.7L127.1 375.6L121.6 376.4L116.1 377.4L111 378.5L106.5 379.6L102.1 380.8L98.3 382L94.7 383.4L91.1 384.9L88.2 386.4L85.2 388.2L82.7 389.9L80.4 391.8L78.2 394L76.4 396.2L74.9 398.4L73.6 400.8L72.6 403.3L71.8 406L71.4 408.7L71.2 411.4L71.4 414.2L71.8 416.9L72.6 419.6L73.6 422.1L74.9 424.5L76.4 426.7L78.2 428.9L80.4 431.1L82.7 433L85.2 434.7L88.2 436.5L91.1 438L94.7 439.5L98.3 440.9L102.1 442.1L106.5 443.3L111 444.4L116.1 445.5L121.6 446.5L127.1 447.3L133.1 448.2L139.5 449L146.5 449.7L154 450.4L162 451L170.5 451.6L189.4 452.7L211.4 453.7L236.3 454.5M236.3 270.3L211.4 271.1L189.4 272.1L170.5 273.2L162 273.8L154 274.4L146.5 275.1L139.5 275.8L133.1 276.6L127.1 277.5L121.6 278.3L116.1 279.3L111 280.4L106.5 281.5L102.1 282.7L98.3 283.9L94.7 285.3L91.1 286.8L88.2 288.3L85.2 290.1L82.7 291.8L80.4 293.7L78.2 295.9L76.4 298.1L74.9 300.3L73.6 302.7L72.6 305.2L71.8 307.9L71.4 310.6L71.2 313.4L71.4 316.1L71.8 318.8L72.6 321.5L73.6 324L74.9 326.4L76.4 328.6L78.2 330.8L80.4 333L82.7 334.9L85.2 336.6L88.2 338.4L91.1 339.9L94.7 341.4L98.3 342.8L102.1 344L106.5 345.2L111 346.3L116.1 347.4L121.6 348.4L127.1 349.2L133.1 350.1L139.5 350.9L146.5 351.6L154 352.3L162 352.9L170.5 353.5L189.4 354.6L211.4 355.6L236.3 356.4M236.3 371.4L215.9 372.4L198 373.6L181.9 374.8L167.5 376.3L160.5 377.1L154.5 377.9L148.5 378.7L143.5 379.6L138.5 380.5L133.6 381.5L128.9 382.6L124.7 383.7L120.6 384.8L116.8 386.1L113.1 387.5L110 388.8L107.1 390.2L104.2 391.8L101.7 393.5L99.5 395.1L97.3 397L95.6 398.8L94.1 400.8L92.9 402.7L91.8 404.9L91.1 407.1L90.7 409.3L90.5 411.4L90.7 413.6L91.1 415.8L91.8 418L92.9 420.2L94.1 422.1L95.6 424.1L97.3 425.9L99.5 427.8L101.7 429.4L104.2 431.1L107.1 432.7L110 434.1L113.1 435.4L116.8 436.8L120.6 438.1L124.7 439.2L128.9 440.3L133.6 441.4L138.5 442.4L143.5 443.3L148.5 444.2L154.5 445L160.5 445.8L167.5 446.6L181.9 448.1L198 449.3L215.9 450.5L236.3 451.5M236.3 273.3L215.9 274.3L198 275.5L181.9 276.7L167.5 278.2L160.5 279L154.5 279.8L148.5 280.6L143.5 281.5L138.5 282.4L133.6 283.4L128.9 284.5L124.7 285.6L120.6 286.7L116.8 288L113.1 289.4L110 290.7L107.1 292.1L104.2 293.7L101.7 295.4L99.5 297L97.3 298.9L95.6 300.7L94.1 302.7L92.9 304.6L91.8 306.8L91.1 309L90.7 311.2L90.5 313.4L90.7 315.5L91.1 317.7L91.8 319.9L92.9 322.1L94.1 324L95.6 326L97.3 327.8L99.5 329.7L101.7 331.3L104.2 333L107.1 334.6L110 336L113.1 337.3L116.8 338.7L120.6 340L124.7 341.1L128.9 342.2L133.6 343.3L138.5 344.3L143.5 345.2L148.5 346.1L154.5 346.9L160.5 347.7L167.5 348.5L181.9 350L198 351.2L215.9 352.4L236.3 353.4M236.3 374.5L219.9 375.7L204.9 376.9L191.4 378.3L178.9 379.8L168 381.4L163 382.2L158 383.1L153.5 384L149 385.1L144.8 386.1L140.9 387.2L137 388.4L133.6 389.6L130.6 390.8L127.5 392.1L124.7 393.5L122.3 394.8L120.1 396.2L117.8 397.8L115.9 399.5L114.3 401.1L113 402.7L111.9 404.4L111 406L110.4 407.9L110 409.5L109.9 411.4L110 413.4L110.4 415L111 416.9L111.9 418.5L113 420.2L114.3 421.8L115.9 423.4L117.8 425.1L120.1 426.7L122.3 428.1L124.7 429.4L127.5 430.8L130.6 432.1L133.6 433.3L137 434.5L140.9 435.7L144.8 436.8L149 437.8L153.5 438.9L158 439.8L163 440.7L168 441.5L178.9 443.1L191.4 444.6L204.9 446L219.9 447.2L236.3 448.4M236.3 276.4L219.9 277.6L204.9 278.8L191.4 280.2L178.9 281.7L168 283.3L163 284.1L158 285L153.5 285.9L149 287L144.8 288L140.9 289.1L137 290.3L133.6 291.5L130.6 292.7L127.5 294L124.7 295.4L122.3 296.7L120.1 298.1L117.8 299.7L115.9 301.4L114.3 303L113 304.6L111.9 306.3L111 307.9L110.4 309.8L110 311.4L109.9 313.4L110 315.3L110.4 316.9L111 318.8L111.9 320.4L113 322.1L114.3 323.7L115.9 325.3L117.8 327L120.1 328.6L122.3 330L124.7 331.3L127.5 332.7L130.6 334L133.6 335.2L137 336.4L140.9 337.6L144.8 338.7L149 339.7L153.5 340.8L158 341.7L163 342.6L168 343.4L178.9 345L191.4 346.5L204.9 347.9L219.9 349.1L236.3 350.3M236.3 377.8L222.8 379L210.9 380.3L199.4 381.7L189.4 383.1L179.8 384.7L171.5 386.4L167.5 387.3L163.6 388.3L160 389.3L156.5 390.3L153 391.5L150 392.5L147.1 393.7L144.7 394.8L142.5 395.9L140 397.3L138.3 398.4L136.4 399.7L134.7 401.1L133.3 402.5L132.1 403.8L131 405.5L130.2 406.8L129.6 408.5L129.3 409.8L129.2 411.4L129.3 413.1L129.6 414.4L130.2 416.1L131 417.4L132.1 419.1L133.3 420.4L134.7 421.8L136.4 423.2L138.3 424.5L140 425.6L142.5 427L144.7 428.1L147.1 429.2L150 430.4L153 431.4L156.5 432.6L160 433.6L163.6 434.6L167.5 435.6L171.5 436.5L179.8 438.2L189.4 439.8L199.4 441.2L210.9 442.6L222.8 443.9L236.3 445.1M236.3 279.7L222.8 280.9L210.9 282.2L199.4 283.6L189.4 285L179.8 286.6L171.5 288.3L167.5 289.2L163.6 290.2L160 291.2L156.5 292.2L153 293.4L150 294.4L147.1 295.6L144.7 296.7L142.5 297.8L140 299.2L138.3 300.3L136.4 301.6L134.7 303L133.3 304.4L132.1 305.7L131 307.4L130.2 308.7L129.6 310.4L129.3 311.7L129.2 313.4L129.3 315L129.6 316.3L130.2 318L131 319.3L132.1 321L133.3 322.3L134.7 323.7L136.4 325.1L138.3 326.4L140 327.5L142.5 328.9L144.7 330L147.1 331.1L150 332.3L153 333.3L156.5 334.5L160 335.5L163.6 336.5L167.5 337.5L171.5 338.4L179.8 340.1L189.4 341.7L199.4 343.1L210.9 344.5L222.8 345.8L236.3 347M236.3 381.3L225.3 382.5L215.9 383.8L206.9 385.1L198.4 386.6L191 388L183.8 389.6L177.5 391.3L171.5 393.2L166.4 395.1L163.8 396.2L161.5 397.3L159.4 398.4L157.6 399.5L155.9 400.6L154.4 401.6L153 402.8L151.8 404.1L150.8 405.2L149.9 406.5L149.3 407.6L148.8 409L148.6 410.1L148.5 411.4L148.6 412.8L148.8 413.9L149.3 415.3L149.9 416.4L150.8 417.7L151.8 418.8L153 420.1L154.4 421.3L155.9 422.4L157.6 423.4L159.4 424.5L161.5 425.6L163.8 426.7L166.4 427.8L171.5 429.7L177.5 431.6L183.8 433.2L191 434.9L198.4 436.3L206.9 437.8L215.9 439.1L225.3 440.4L236.3 441.6M236.3 283.2L225.3 284.4L215.9 285.7L206.9 287L198.4 288.5L191 289.9L183.8 291.6L177.5 293.2L171.5 295.1L166.4 297L163.8 298.1L161.5 299.2L159.4 300.3L157.6 301.4L155.9 302.5L154.4 303.5L153 304.7L151.8 306L150.8 307.1L149.9 308.4L149.3 309.5L148.8 310.9L148.6 312L148.5 313.4L148.6 314.7L148.8 315.8L149.3 317.2L149.9 318.3L150.8 319.6L151.8 320.7L153 322L154.4 323.2L155.9 324.2L157.6 325.3L159.4 326.4L161.5 327.5L163.8 328.6L166.4 329.7L171.5 331.6L177.5 333.5L183.8 335.2L191 336.8L198.4 338.2L206.9 339.7L215.9 341L225.3 342.3L236.3 343.5M236.3 385.1L228.3 386.2L220.5 387.5L213.1 388.8L206.9 390.1L200.7 391.6L195.4 393L190.3 394.6L185.7 396.2L181.7 397.8L179.9 398.7L177.9 399.7L176.4 400.6L174.7 401.6L173.5 402.5L172.2 403.5L171.3 404.4L170.3 405.5L169.7 406.3L168.9 407.4L168.5 408.2L168.1 409.3L167.9 410.4L167.8 411.4L167.9 412.5L168.1 413.6L168.5 414.7L168.9 415.5L169.7 416.6L170.3 417.4L171.3 418.5L172.2 419.4L173.5 420.4L174.7 421.3L176.4 422.4L177.9 423.2L179.9 424.2L181.7 425.1L185.7 426.7L190.3 428.3L195.4 429.9L200.7 431.3L206.9 432.8L213.1 434.1L220.5 435.4L228.3 436.7L236.3 437.8M236.3 287L228.3 288.1L220.5 289.4L213.1 290.7L206.9 292L200.7 293.5L195.4 294.9L190.3 296.5L185.7 298.1L181.7 299.7L179.9 300.6L177.9 301.6L176.4 302.5L174.7 303.5L173.5 304.4L172.2 305.4L171.3 306.3L170.3 307.4L169.7 308.2L168.9 309.3L168.5 310.1L168.1 311.2L167.9 312.3L167.8 313.4L167.9 314.4L168.1 315.5L168.5 316.6L168.9 317.4L169.7 318.5L170.3 319.3L171.3 320.4L172.2 321.3L173.5 322.3L174.7 323.2L176.4 324.2L177.9 325.1L179.9 326.1L181.7 327L185.7 328.6L190.3 330.2L195.4 331.8L200.7 333.2L206.9 334.7L213.1 336L220.5 337.3L228.3 338.6L236.3 339.7M236.3 389.3L230 390.5L224.8 391.6L219.9 392.7L214.9 394L210.9 395.1L206.8 396.5L203 397.8L199.8 399.2L196.9 400.6L194.1 402.2L192.2 403.5L190.2 405.2L189 406.5L188.4 407.4L187.9 408.2L187.6 409L187.3 409.8L187.1 410.6L187.1 411.4L187.1 412.3L187.3 413.1L187.6 413.9L187.9 414.7L188.4 415.5L189 416.4L190.2 417.7L192.2 419.4L194.1 420.7L196.9 422.3L199.8 423.7L203 425.1L206.8 426.4L210.9 427.8L214.9 428.9L219.9 430.2L224.8 431.3L230 432.4L236.3 433.6M236.3 291.2L230 292.4L224.8 293.5L219.9 294.6L214.9 295.9L210.9 297L206.8 298.4L203 299.7L199.8 301.1L196.9 302.5L194.1 304.1L192.2 305.4L190.2 307.1L189 308.4L188.4 309.3L187.9 310.1L187.6 310.9L187.3 311.7L187.1 312.5L187.1 313.4L187.1 314.2L187.3 315L187.6 315.8L187.9 316.6L188.4 317.4L189 318.3L190.2 319.6L192.2 321.3L194.1 322.6L196.9 324.2L199.8 325.6L203 327L206.8 328.3L210.9 329.7L214.9 330.8L219.9 332.1L224.8 333.2L230 334.3L236.3 335.5M236.3 394.3L229.4 396.2L226.3 397.2L223.6 398.1L220.7 399.2L218.1 400.3L215.9 401.4L213.9 402.4L212.1 403.5L210.6 404.6L209.3 405.7L208.3 406.8L207.5 407.9L206.9 409L206.5 410.1L206.4 411.4L206.5 412.8L206.9 413.9L207.5 415L208.3 416.1L209.3 417.2L210.6 418.3L212.1 419.4L213.9 420.5L215.9 421.5L218.1 422.6L220.7 423.7L223.6 424.8L226.3 425.7L229.4 426.7L236.3 428.6M236.3 296.2L229.4 298.1L226.3 299.1L223.6 300L220.7 301.1L218.1 302.2L215.9 303.3L213.9 304.3L212.1 305.4L210.6 306.5L209.3 307.6L208.3 308.7L207.5 309.8L206.9 310.9L206.5 312L206.4 313.4L206.5 314.7L206.9 315.8L207.5 316.9L208.3 318L209.3 319.1L210.6 320.2L212.1 321.3L213.9 322.4L215.9 323.4L218.1 324.5L220.7 325.6L223.6 326.7L226.3 327.6L229.4 328.6L236.3 330.5M236.3 401.3L234 402.5L231.6 403.8L230 404.9L228.4 406.3L227.4 407.4L226.4 408.7L226.2 409.3L225.9 410.1L225.8 410.6L225.7 411.4L225.8 412.3L225.9 412.8L226.2 413.6L226.4 414.2L227.4 415.5L228.4 416.6L230 418L231.6 419.1L234 420.4L236.3 421.6M236.3 303.2L234 304.4L231.6 305.7L230 306.8L228.4 308.2L227.4 309.3L226.4 310.6L226.2 311.2L225.9 312L225.8 312.5L225.7 313.4L225.8 314.2L225.9 314.7L226.2 315.5L226.4 316.1L227.4 317.4L228.4 318.5L230 319.9L231.6 321L234 322.3L236.3 323.5" fill="none" stroke="#000" stroke-width="0.75" stroke-linejoin="round"/>
<path d="M236.3 366.9L208.1 367.6L183.9 368.4L163 369.4L153.5 370L145 370.5L137 371.2L129.6 371.9L123.1 372.6L116.6 373.4L110.6 374.3L105.3 375.2L100.1 376.2L95.6 377.3L91.4 378.5L87.7 379.7L84.2 381L80.7 382.6L77.7 384.2L74.7 386.1L72.2 388L70.2 389.9L68.2 392.1L66.6 394.3L65.1 396.7L63.9 399.5L62.9 402.2L62.2 405.2L61.8 408.2L61.6 411.4L61.8 414.7L62.2 417.7L62.9 420.7L63.9 423.4L65.1 426.2L66.6 428.6L68.2 430.8L70.2 433L72.2 434.9L74.7 436.8L77.7 438.7L80.7 440.3L84.2 441.9L87.7 443.2L91.4 444.4L95.6 445.6L100.1 446.7L105.3 447.7L110.6 448.6L116.6 449.5L123.1 450.3L129.6 451L137 451.7L145 452.4L153.5 452.9L163 453.5L183.9 454.5L208.1 455.3L236.3 456M236.3 268.8L208.1 269.5L183.9 270.3L163 271.3L153.5 271.9L145 272.4L137 273.1L129.6 273.8L123.1 274.5L116.6 275.3L110.6 276.2L105.3 277.1L100.1 278.1L95.6 279.2L91.4 280.4L87.7 281.6L84.2 282.9L80.7 284.5L77.7 286.1L74.7 288L72.2 289.9L70.2 291.8L68.2 294L66.6 296.2L65.1 298.6L63.9 301.4L62.9 304.1L62.2 307.1L61.8 310.1L61.6 313.4L61.8 316.6L62.2 319.6L62.9 322.6L63.9 325.3L65.1 328.1L66.6 330.5L68.2 332.7L70.2 334.9L72.2 336.8L74.7 338.7L77.7 340.6L80.7 342.2L84.2 343.8L87.7 345.1L91.4 346.3L95.6 347.5L100.1 348.6L105.3 349.6L110.6 350.5L116.6 351.4L123.1 352.2L129.6 352.9L137 353.6L145 354.3L153.5 354.8L163 355.4L183.9 356.4L208.1 357.2L236.3 357.9" fill="none" stroke="#FF0A2A" stroke-width="0.8" stroke-linejoin="round"/>
<path d="M31.299999999999997 261.3H237.8V463.5H31.299999999999997ZM34.3 264.3V460.5H234.8V264.3Z" fill="#fff" fill-rule="evenodd"/>
<text x="34.5" y="258.90" font-size="9.8" fill="#000" stroke="#000" stroke-width="0.22">(c) Uncertainty Due to Anemometer Wind Direction</text>
<line x1="32.1" x2="34.3" y1="435.98" y2="435.98" stroke="#333" stroke-width="0.7"/>
<text x="31.2" y="438.38" font-size="8.4" fill="#4D4D4D" stroke="#4D4D4D" stroke-width="0.15" text-anchor="end">45</text>
<line x1="32.1" x2="34.3" y1="411.45" y2="411.45" stroke="#333" stroke-width="0.7"/>
<text x="31.2" y="413.45" font-size="8.4" fill="#4D4D4D" stroke="#4D4D4D" stroke-width="0.15" text-anchor="end">90</text>
<line x1="32.1" x2="34.3" y1="386.93" y2="386.93" stroke="#333" stroke-width="0.7"/>
<text x="31.2" y="388.93" font-size="8.4" fill="#4D4D4D" stroke="#4D4D4D" stroke-width="0.15" text-anchor="end">135</text>
<line x1="32.1" x2="34.3" y1="362.40" y2="362.40" stroke="#333" stroke-width="0.7"/>
<text x="31.2" y="364.40" font-size="8.4" fill="#4D4D4D" stroke="#4D4D4D" stroke-width="0.15" text-anchor="end">180</text>
<line x1="32.1" x2="34.3" y1="337.88" y2="337.88" stroke="#333" stroke-width="0.7"/>
<text x="31.2" y="339.88" font-size="8.4" fill="#4D4D4D" stroke="#4D4D4D" stroke-width="0.15" text-anchor="end">225</text>
<line x1="32.1" x2="34.3" y1="313.35" y2="313.35" stroke="#333" stroke-width="0.7"/>
<text x="31.2" y="315.35" font-size="8.4" fill="#4D4D4D" stroke="#4D4D4D" stroke-width="0.15" text-anchor="end">270</text>
<line x1="32.1" x2="34.3" y1="288.83" y2="288.83" stroke="#333" stroke-width="0.7"/>
<text x="31.2" y="290.83" font-size="8.4" fill="#4D4D4D" stroke="#4D4D4D" stroke-width="0.15" text-anchor="end">315</text>
<text x="31.2" y="266.70" font-size="8.4" fill="#4D4D4D" stroke="#4D4D4D" stroke-width="0.15" text-anchor="end">360</text>
<text x="30.7" y="470.9" font-size="8.4" fill="#4D4D4D" stroke="#4D4D4D" stroke-width="0.15" text-anchor="middle">0</text>
<text x="82.7" y="470.9" font-size="8.4" fill="#4D4D4D" stroke="#4D4D4D" stroke-width="0.15" text-anchor="middle">5</text>
<text x="133.5" y="470.9" font-size="8.4" fill="#4D4D4D" stroke="#4D4D4D" stroke-width="0.15" text-anchor="middle">10</text>
<text x="184.8" y="470.9" font-size="8.4" fill="#4D4D4D" stroke="#4D4D4D" stroke-width="0.15" text-anchor="middle">15</text>
<text x="237.4" y="470.9" font-size="8.4" fill="#1a1a1a" stroke="#1a1a1a" stroke-width="0.3" text-anchor="middle">20</text>
<line x1="234.8" x2="234.8" y1="460.5" y2="462.4" stroke="#333" stroke-width="0.6"/>
<text x="134.6" y="480.5" font-size="9.8" fill="#000" stroke="#000" stroke-width="0.22" text-anchor="middle">Vehicle Speed (m/s)</text>
<text transform="translate(14.2 362.7) rotate(-90)" font-size="9.2" fill="#222" letter-spacing="-0.2" text-anchor="middle">θ(°)</text>
<rect x="246.1" y="413.55" width="11.0" height="11.32" fill="#50065A"/>
<rect x="246.1" y="401.33" width="11.0" height="11.32" fill="#511F78"/>
<rect x="246.1" y="389.11" width="11.0" height="11.32" fill="#3D428A"/>
<rect x="246.1" y="376.89" width="11.0" height="11.32" fill="#005F90"/>
<rect x="246.1" y="364.67" width="11.0" height="11.32" fill="#007991"/>
<rect x="246.1" y="352.45" width="11.0" height="11.32" fill="#00928D"/>
<rect x="246.1" y="340.23" width="11.0" height="11.32" fill="#00A983"/>
<rect x="246.1" y="328.01" width="11.0" height="11.32" fill="#07BD6C"/>
<rect x="246.1" y="315.79" width="11.0" height="11.32" fill="#43C848"/>
<rect x="246.1" y="303.57" width="11.0" height="11.32" fill="#B3D709"/>
<rect x="246.1" y="291.35" width="11.0" height="11.32" fill="#FFE800"/>
<text x="269.5" y="427.10" font-size="7.5" fill="#000" stroke="#000" stroke-width="0.15" text-anchor="end">0</text>
<text x="269.5" y="414.92" font-size="7.5" fill="#000" stroke="#000" stroke-width="0.15" text-anchor="end">2</text>
<text x="269.5" y="402.74" font-size="7.5" fill="#000" stroke="#000" stroke-width="0.15" text-anchor="end">4</text>
<text x="269.5" y="390.56" font-size="7.5" fill="#000" stroke="#000" stroke-width="0.15" text-anchor="end">6</text>
<text x="269.5" y="378.38" font-size="7.5" fill="#000" stroke="#000" stroke-width="0.15" text-anchor="end">8</text>
<text x="269.5" y="366.20" font-size="7.5" fill="#000" stroke="#000" stroke-width="0.15" text-anchor="end">10</text>
<text x="269.5" y="354.02" font-size="7.5" fill="#000" stroke="#000" stroke-width="0.15" text-anchor="end">12</text>
<text x="269.5" y="341.84" font-size="7.5" fill="#000" stroke="#000" stroke-width="0.15" text-anchor="end">14</text>
<text x="269.5" y="329.66" font-size="7.5" fill="#000" stroke="#000" stroke-width="0.15" text-anchor="end">16</text>
<text x="269.5" y="317.48" font-size="7.5" fill="#000" stroke="#000" stroke-width="0.15" text-anchor="end">18</text>
<text x="269.5" y="305.30" font-size="7.5" fill="#000" stroke="#000" stroke-width="0.15" text-anchor="end">20</text>
<text x="269.5" y="293.12" font-size="7.5" fill="#000" stroke="#000" stroke-width="0.15" text-anchor="end">22</text>
<rect x="300.90" y="263.10" width="200.60" height="198.60" fill="#50065A"/>
<path d="M325.5 461.9L501.8 461.9L501.8 415.3L472.2 416L447.1 416.8L425.4 417.7L415.9 418.3L407.1 418.8L399.2 419.4L391.8 420.1L384.9 420.8L378.5 421.6L372.6 422.5L367.2 423.4L362.2 424.4L357.8 425.5L353.7 426.7L349.7 428.1L346.3 429.4L343 431L340.1 432.7L337.6 434.5L335.2 436.5L333.3 438.4L332.4 439.5L331.3 440.9L329.7 443.3L328.4 446.1L327.3 448.8L326.4 451.8L325.8 455.1L325.5 458.3L325.4 460ZM491.8 407.4L501.8 407.6L501.8 317.2L475.7 317.8L453 318.5L433.3 319.3L415.9 320.2L400.7 321.2L393.9 321.8L387.9 322.4L382 323.1L376.5 323.8L371.8 324.5L367.1 325.3L362.7 326.2L358.5 327.2L354.8 328.3L351.4 329.4L348.3 330.5L345.1 331.9L342.5 333.2L340.1 334.6L337.8 336.2L335.8 337.9L334.1 339.5L332.4 341.4L330.8 343.6L329.4 345.8L328.4 348L327.4 350.4L326.9 352L326.4 354L326 355.6L325.7 357.5L325.5 359.4L325.4 361.3L325.4 363.2L325.5 365.1L325.7 367L325.9 368.7L326.3 370.6L326.7 372.2L327.2 373.8L327.8 375.5L328.5 377.1L329.3 378.8L330.1 380.1L330.9 381.5L331.9 382.8L332.8 383.9L334.1 385.3L335.2 386.4L336.4 387.5L337.8 388.6L340.6 390.5L342.4 391.6L344 392.4L347.4 394L351.2 395.4L355.3 396.7L359.8 397.9L364.7 399L370.2 400L376.1 400.9L383 401.8L389.9 402.6L397.7 403.3L406.1 404L415.5 404.6L425.8 405.2L436.7 405.7L461.9 406.6ZM491.8 309.3L501.8 309.5L501.8 262.9L325.5 262.9L325.5 266.2L325.8 269.5L326.3 272.5L327.1 275.5L328.1 278.2L329.4 280.9L330.9 283.4L331.9 284.7L332.8 285.8L334.9 288L337.1 289.9L339.7 291.8L342.4 293.5L345.5 295L348.9 296.4L352.4 297.7L356.4 298.9L360.8 300L365.7 301.1L370.6 302L376.1 302.8L382 303.6L388.4 304.4L395.3 305L403.2 305.7L411.5 306.3L420.4 306.8L440.7 307.8L464.3 308.6Z" fill="#4B2E82" fill-rule="evenodd"/>
<path d="M350.5 461.9L501.8 461.9L501.8 419.3L480.1 420.3L460.9 421.3L443.6 422.6L435.7 423.3L428.3 424L421.4 424.7L415 425.5L408.7 426.4L403.2 427.3L397.7 428.3L392.8 429.3L387.9 430.4L383.5 431.6L379.5 432.8L375.6 434.2L372.1 435.5L368.8 437.1L365.7 438.7L363 440.3L360.7 442L358.4 443.9L356.5 445.8L354.7 448L353.3 450.1L352.2 452.3L351.3 454.5L350.7 457L350.4 459.4ZM500 403.5L501.8 403.6L501.8 321.2L481.7 322.1L463.8 323.1L447.6 324.2L433.3 325.4L420.4 326.8L414.5 327.5L409.1 328.3L403.7 329.1L398.9 330L394.3 330.9L389.9 331.9L385.9 332.8L382 334L378.2 335.2L375.1 336.3L371.7 337.6L368.8 339L366.2 340.3L363.7 341.8L361.4 343.3L359.4 345L357.6 346.6L355.8 348.5L354.3 350.4L353.1 352.3L352.2 354.2L351.3 356.4L350.7 358.9L350.5 360.2L350.4 361.6L350.4 362.9L350.5 364.3L350.9 366.8L351.6 369.2L352.2 370.6L352.7 371.7L353.5 373L354.1 374.1L355.8 376.3L357.9 378.5L360 380.4L362.6 382.3L365.2 383.9L368.2 385.6L371.7 387.2L375.6 388.7L379.8 390.2L383.9 391.4L388.7 392.6L393.4 393.7L398.9 394.8L404.7 395.8L410.6 396.7L417 397.6L424.4 398.5L431.8 399.3L439.9 400L448.5 400.7L457.4 401.3L477.1 402.5ZM500 305.4L501.8 305.5L501.8 262.9L350.5 262.9L350.4 265.4L350.7 267.8L351.3 270.3L352.2 272.5L353.3 274.7L354.7 276.8L356.5 279L358.4 280.9L360.7 282.8L363 284.5L365.7 286.1L368.8 287.7L372.1 289.3L375.6 290.6L379.5 292L383.5 293.2L387.6 294.3L392.3 295.4L397.5 296.5L402.7 297.4L408.6 298.4L414.4 299.2L420.9 300L427.3 300.7L434.7 301.4L442.6 302.1L459.4 303.4L478.6 304.5Z" fill="#0E5B90" fill-rule="evenodd"/>
<path d="M375.5 461.9L501.8 461.9L501.8 423.4L484.7 424.5L469.7 425.8L455.9 427.2L443.9 428.6L432.8 430.3L427.3 431.2L422.4 432.1L418 433L413.6 434.1L409.3 435.2L405.5 436.2L401.7 437.5L398.3 438.7L394.9 440.1L391.9 441.4L389.3 442.8L386.6 444.4L384.4 445.9L382.5 447.4L380.7 449.1L379 451L377.9 452.6L376.8 454.5L376.1 456.1L375.6 458L375.4 460ZM500.5 399.5L501.8 399.5L501.8 325.3L486.5 326.3L472.7 327.4L460.1 328.6L448.1 330L437.7 331.4L427.8 333L419 334.7L414.7 335.7L411.1 336.6L407.4 337.6L403.8 338.7L400.5 339.8L397.6 340.9L394.8 342L391.9 343.3L389.8 344.4L387.4 345.8L385.3 347.1L383.5 348.5L381.9 349.9L380.2 351.5L378.8 353.1L377.7 354.8L376.8 356.4L376.1 358L375.6 359.9L375.4 361.9L375.4 362.9L375.5 364L375.9 365.9L376.6 367.9L377.5 369.8L378.8 371.7L380.5 373.6L382.2 375.2L384.4 377L386.6 378.5L389.3 380.1L391.9 381.5L395.3 383L398.7 384.4L402.2 385.6L406.1 386.8L410.1 387.9L414.5 389.1L419 390.1L423.9 391.1L429.3 392.1L434.7 393L440.7 393.8L453 395.4L467.3 396.9L483.1 398.2ZM500.5 301.4L501.8 301.4L501.8 262.9L375.5 262.9L375.4 264.8L375.6 266.8L376.1 268.7L376.8 270.3L377.9 272.2L379 273.8L380.7 275.7L382.5 277.4L384.4 278.9L386.6 280.4L389.3 282L391.9 283.4L394.9 284.7L398.2 286.1L401.7 287.3L405.1 288.4L409.1 289.6L413 290.6L417.5 291.6L422.2 292.6L426.8 293.5L432.3 294.5L443.1 296.1L455 297.5L468.8 298.9L484 300.2Z" fill="#008090" fill-rule="evenodd"/>
<path d="M400.5 461.9L501.8 461.9L501.8 427.7L489 428.9L476.9 430.3L465.8 431.7L455.9 433.2L447 434.9L438.7 436.7L434.9 437.6L431.3 438.6L428.1 439.5L424.8 440.6L421.7 441.7L418.9 442.8L416.4 443.9L413.6 445.2L411.6 446.4L409.4 447.7L407.5 449.1L405.8 450.4L404.4 451.8L403.2 453.1L402.2 454.5L401.4 456.1L400.8 457.5L400.5 458.9L400.4 460.2ZM500.3 395.1L501.8 395.2L501.8 329.6L490 330.7L479.1 331.9L469.3 333.1L459.9 334.5L451.3 336L443.6 337.5L436.2 339.2L429.9 340.9L424 342.8L418.9 344.7L416.4 345.8L414.2 346.9L412.1 348L410.3 349L408.6 350.1L407.1 351.2L405.8 352.3L404.4 353.7L403.4 354.8L402.4 356.1L401.6 357.5L401 358.9L400.6 360.2L400.4 361.9L400.4 363.5L400.8 365.1L401.4 366.8L402.1 368.1L403.2 369.8L404.4 371.1L405.8 372.5L407.5 373.8L409.4 375.2L411.6 376.6L414 377.9L416.4 379L419.4 380.3L422.4 381.5L425.6 382.6L429 383.7L432.8 384.7L436.2 385.6L440.5 386.7L444.6 387.5L454 389.3L463.8 390.9L474.7 392.4L487 393.8ZM500.3 297L501.8 297.1L501.8 262.9L400.5 262.9L400.4 264.6L400.5 265.9L400.8 267.3L401.4 268.7L402.2 270.3L403.2 271.7L404.4 273L405.8 274.4L407.5 275.7L409.4 277.1L411.6 278.4L413.6 279.6L416.4 280.9L418.9 282L421.7 283.1L424.8 284.2L428.1 285.3L431.3 286.2L434.9 287.2L438.7 288.1L447 289.9L455.9 291.6L465.8 293.1L476.2 294.5L487.5 295.8Z" fill="#00A387" fill-rule="evenodd"/>
<path d="M425.5 461.9L501.8 461.9L501.8 432.3L492.4 433.6L483.6 434.9L475.6 436.2L467.8 437.8L461.2 439.2L454.8 440.9L449.4 442.5L444 444.4L439.4 446.3L435.6 448.2L433.8 449.3L432.2 450.4L430.7 451.5L429.5 452.6L428.4 453.7L427.5 454.8L426.7 455.9L426 457.2L425.7 458.3L425.4 459.4L425.4 460.8ZM501.1 390.5L501.8 390.6L501.8 334.2L492.9 335.4L485.3 336.5L478.1 337.7L471.2 339L464.7 340.3L459 341.7L453.5 343.2L448.6 344.7L444 346.3L440 348L436.7 349.6L435.2 350.4L433.4 351.5L432.2 352.3L430.7 353.4L429.8 354.2L428.6 355.3L427.8 356.2L427.1 357.2L426.6 358L426 359.1L425.7 360.2L425.4 361.6L425.4 362.9L425.5 364L425.9 365.4L426.4 366.5L427.3 367.9L428.1 368.9L429.5 370.3L430.7 371.4L432.2 372.5L433.8 373.6L435.6 374.7L437.7 375.8L441.9 377.7L446.9 379.6L452.9 381.5L459 383.1L466 384.7L473.7 386.3L481.9 387.7L490.8 389.1ZM501.1 292.4L501.8 292.5L501.8 262.9L425.5 262.9L425.4 264L425.4 265.4L425.7 266.5L426 267.6L426.6 268.7L427.3 269.8L428.1 270.8L429.3 272.1L430.4 273L431.8 274.1L433.4 275.2L435.2 276.3L437.2 277.4L438.8 278.2L441.3 279.3L443.6 280.2L448.6 282L454 283.7L460.1 285.3L467.2 286.9L474.7 288.4L483.1 289.8L491.9 291.2Z" fill="#0BBF69" fill-rule="evenodd"/>
<path d="M450.5 461.9L501.8 461.9L501.8 437.7L495.4 438.8L489.4 440.1L483.6 441.4L478.6 442.7L473.5 444.1L469.4 445.5L465.8 446.9L462.3 448.4L459 450.1L456.4 451.7L454.3 453.4L453.4 454.2L452.7 455.1L452 455.9L451.5 456.7L451 457.5L450.7 458.3L450.5 459.1L450.4 460L450.4 461ZM500.6 385L501.8 385.2L501.8 339.6L496.1 340.6L491.4 341.5L486.9 342.5L482.3 343.6L478.2 344.7L474.4 345.8L470.7 347L467.2 348.2L464.3 349.4L461.5 350.7L459 352L456.8 353.4L454.9 354.8L453.4 356.1L452.2 357.5L451.6 358.3L451.2 359.1L450.8 359.9L450.5 361L450.4 361.9L450.4 362.9L450.5 364L450.8 364.9L451.2 365.7L451.6 366.5L452.4 367.6L453.1 368.4L454.9 370L456.4 371.1L457.6 371.9L460.5 373.6L463.9 375.2L467.9 376.8L472.2 378.3L477.1 379.8L482.3 381.2L488.1 382.6L494.4 383.9ZM500.6 286.9L501.8 287.1L501.8 262.9L450.5 262.9L450.4 263.8L450.4 264.8L450.5 265.7L450.7 266.5L451 267.3L451.5 268.1L452 268.9L452.7 269.8L453.4 270.6L454.3 271.4L456.4 273L459 274.7L462.1 276.3L465.8 277.9L469.4 279.3L473.5 280.6L478.2 282L483.4 283.4L488.5 284.5L494.4 285.8Z" fill="#8DCF22" fill-rule="evenodd"/>
<path d="M475.5 461.9L501.8 461.9L501.8 444.3L498.5 445.2L495 446.3L492.4 447.2L489.7 448.2L487.1 449.3L484.8 450.4L482.8 451.5L481.1 452.6L479.6 453.7L478.3 454.8L477.3 455.9L476.3 457.2L475.7 458.3L475.4 459.4L475.3 460.8ZM501.4 378.5L501.8 378.6L501.8 346.2L495.8 348L492.9 348.9L490.4 349.9L488 350.9L486 351.8L483.8 352.9L481.9 354L480.6 354.8L479.2 355.9L478 356.9L477 358L476.3 359.1L475.7 360.2L475.4 361.3L475.3 362.4L475.4 363.5L475.7 364.6L476.3 365.7L477 366.8L478 367.9L479.2 368.9L480.6 370L481.9 370.8L483.6 371.8L485.4 372.8L487.8 373.8L490 374.8L495 376.6L498.3 377.6ZM501.4 280.4L501.8 280.5L501.8 262.9L475.5 262.9L475.3 264L475.4 265.4L475.7 266.5L476.3 267.6L477.3 268.9L478.3 270L479.6 271.1L481.1 272.2L482.8 273.3L484.8 274.4L487.1 275.5L489.7 276.6L492.4 277.6L495 278.5L498.3 279.5Z" fill="#FFE800" fill-rule="evenodd"/>
<path d="M501.8 415.3L472.2 416L447.1 416.8L425.4 417.7L415.9 418.3L407.1 418.8L399.2 419.4L391.8 420.1L384.9 420.8L378.5 421.6L372.6 422.5L367.2 423.4L362.2 424.4L357.8 425.5L353.7 426.7L349.7 428.1L346.3 429.4L343 431L340.1 432.7L337.6 434.5L335.2 436.5L333.3 438.4L332.4 439.5L331.3 440.9L329.7 443.3L328.4 446.1L327.3 448.8L326.4 451.8L325.8 455.1L325.5 458.3L325.4 460L325.5 461.9M501.8 317.2L472.2 317.9L447.1 318.7L425.8 319.6L416.5 320.1L407.6 320.7L399.7 321.3L392.3 321.9L385.4 322.7L379 323.5L373.1 324.3L367.7 325.2L363.1 326.2L358.5 327.2L354.4 328.4L350.4 329.7L347 331.1L344 332.4L341 334.1L338.5 335.7L336.1 337.6L334.9 338.7L333.8 339.8L331.9 342L330.2 344.4L329.4 345.8L328.7 347.1L327.6 349.9L326.6 352.9L326 355.9L325.6 359.1L325.4 362.4L325.6 365.7L326 368.9L326.6 371.9L327.6 374.9L328.7 377.7L329.4 379L330.2 380.4L331.9 382.8L333.8 385L334.9 386.1L336.1 387.2L338.5 389.1L341 390.7L344 392.4L347 393.7L350.4 395.1L354.4 396.4L358.5 397.6L363.1 398.6L367.7 399.6L373.1 400.5L379 401.3L385.4 402.1L392.3 402.9L399.7 403.5L407.6 404.1L416.5 404.7L425.8 405.2L447.1 406.1L472.2 406.9L501.8 407.6M325.5 262.9L325.4 264.8L325.5 266.5L325.8 269.8L326.4 273L327.3 276L328.4 278.7L329.7 281.5L331.3 283.9L332.4 285.3L333.3 286.4L335.2 288.3L337.6 290.3L340.1 292.1L343 293.8L346.3 295.4L349.7 296.7L353.7 298.1L357.8 299.3L362.2 300.4L367.2 301.4L372.6 302.3L378.5 303.2L384.9 304L391.8 304.7L399.2 305.4L407.1 306L415.9 306.5L425.4 307.1L447.1 308L472.2 308.8L501.8 309.5M501.8 419.3L480.1 420.3L460.9 421.3L443.6 422.6L435.7 423.3L428.3 424L421.4 424.7L415 425.5L408.7 426.4L403.2 427.3L397.7 428.3L392.8 429.3L387.9 430.4L383.5 431.6L379.5 432.8L375.6 434.2L372.1 435.5L368.8 437.1L365.7 438.7L363 440.3L360.7 442L358.4 443.9L356.5 445.8L354.7 448L353.3 450.1L352.2 452.3L351.3 454.5L350.7 457L350.4 459.4L350.5 461.9M501.8 321.2L480.6 322.1L461.4 323.2L444.1 324.4L429.3 325.8L422.4 326.5L416 327.3L410.1 328.1L404.2 329L398.9 330L393.8 331L389.4 332L384.9 333.1L380.7 334.3L376.6 335.7L373 337.1L369.9 338.4L367.2 339.8L364.2 341.5L361.7 343.1L359.4 345L357.3 346.9L355.6 348.8L354 351L352.7 353.1L351.7 355.3L351 357.8L350.6 359.9L350.4 362.4L350.6 364.9L351 367L351.7 369.5L352.7 371.7L354 373.8L355.6 376L357.3 377.9L359.4 379.8L361.7 381.7L364.2 383.3L367.2 385L369.9 386.4L373 387.7L376.6 389.1L380.7 390.5L384.9 391.7L389.4 392.8L393.8 393.8L398.9 394.8L404.2 395.8L410.1 396.7L416 397.5L422.4 398.3L429.3 399L444.1 400.4L461.4 401.6L480.6 402.7L501.8 403.6M350.5 262.9L350.4 265.4L350.7 267.8L351.3 270.3L352.2 272.5L353.3 274.7L354.7 276.8L356.5 279L358.4 280.9L360.7 282.8L363 284.5L365.7 286.1L368.8 287.7L372.1 289.3L375.6 290.6L379.5 292L383.5 293.2L387.9 294.4L392.8 295.5L397.7 296.5L403.2 297.5L408.7 298.4L415 299.3L421.4 300.1L428.3 300.8L435.7 301.5L443.6 302.2L460.9 303.5L480.1 304.5L501.8 305.5M501.8 423.4L484.7 424.5L469.7 425.8L455.9 427.2L443.9 428.6L432.8 430.3L427.3 431.2L422.4 432.1L418 433L413.6 434.1L409.3 435.2L405.5 436.2L401.7 437.5L398.3 438.7L394.9 440.1L391.9 441.4L389.3 442.8L386.6 444.4L384.4 445.9L382.5 447.4L380.7 449.1L379 451L377.9 452.6L376.8 454.5L376.1 456.1L375.6 458L375.4 460L375.5 461.9M501.8 325.3L485 326.4L470.2 327.6L456.4 329L444.1 330.5L433.3 332.1L428 333L423.4 333.8L419 334.7L414.5 335.7L410.3 336.8L406.4 337.9L402.9 339L399.2 340.2L396.2 341.4L393.1 342.8L390.3 344.1L387.9 345.5L385.7 346.9L383.5 348.5L381.6 350.1L380 351.8L378.6 353.4L377.5 355L376.7 356.7L376 358.6L375.5 360.5L375.4 362.4L375.5 364.3L376 366.2L376.7 368.1L377.5 369.8L378.6 371.4L380 373L381.6 374.7L383.5 376.3L385.7 377.9L387.9 379.3L390.3 380.7L393.1 382L396.2 383.4L399.2 384.6L402.9 385.8L406.4 386.9L410.3 388L414.5 389.1L419 390.1L423.4 391L428 391.8L433.3 392.7L444.1 394.3L456.4 395.8L470.2 397.2L485 398.4L501.8 399.5M375.5 262.9L375.4 264.8L375.6 266.8L376.1 268.7L376.8 270.3L377.9 272.2L379 273.8L380.7 275.7L382.5 277.4L384.4 278.9L386.6 280.4L389.3 282L391.9 283.4L394.9 284.7L398.3 286.1L401.7 287.3L405.5 288.6L409.3 289.6L413.6 290.7L418 291.8L422.4 292.7L427.3 293.6L432.8 294.5L443.9 296.2L455.9 297.6L469.7 299L484.7 300.3L501.8 301.4M501.8 427.7L489 428.9L476.9 430.3L465.8 431.7L455.9 433.2L447 434.9L438.7 436.7L434.9 437.6L431.3 438.6L428.1 439.5L424.8 440.6L421.7 441.7L418.9 442.8L416.4 443.9L413.6 445.2L411.6 446.4L409.4 447.7L407.5 449.1L405.8 450.4L404.4 451.8L403.2 453.1L402.2 454.5L401.4 456.1L400.8 457.5L400.5 458.9L400.4 460.2L400.5 461.9M501.8 329.6L489 330.8L477.6 332.1L467.3 333.4L457.5 334.9L448.5 336.5L440.5 338.1L436.7 339.1L432.9 340.1L426.4 342L423.2 343.1L420.3 344.1L417.6 345.2L415.3 346.3L413 347.4L410.7 348.8L409 349.9L407.1 351.2L405.5 352.6L404.1 354L403 355.3L402.1 356.7L401.4 358L400.8 359.4L400.5 360.8L400.4 362.4L400.5 364L400.8 365.4L401.4 366.8L402.1 368.1L403 369.5L404.1 370.8L405.5 372.2L407.1 373.6L409 374.9L410.7 376L413 377.4L415.3 378.5L417.6 379.6L420.3 380.7L423.2 381.7L426.4 382.8L432.9 384.7L436.7 385.7L440.5 386.7L448.5 388.3L457.5 389.9L467.3 391.4L477.6 392.7L489 394L501.8 395.2M400.5 262.9L400.4 264.6L400.5 265.9L400.8 267.3L401.4 268.7L402.2 270.3L403.2 271.7L404.4 273L405.8 274.4L407.5 275.7L409.4 277.1L411.6 278.4L413.6 279.6L416.4 280.9L418.9 282L421.7 283.1L424.8 284.2L428.1 285.3L431.3 286.2L434.9 287.2L438.7 288.1L447 289.9L455.9 291.6L465.8 293.1L476.9 294.5L489 295.9L501.8 297.1M501.8 432.3L492.4 433.6L483.6 434.9L475.6 436.2L467.8 437.8L461.2 439.2L454.8 440.9L449.4 442.5L444 444.4L439.4 446.3L435.6 448.2L433.8 449.3L432.2 450.4L430.7 451.5L429.5 452.6L428.4 453.7L427.5 454.8L426.7 455.9L426 457.2L425.7 458.3L425.4 459.4L425.4 460.8L425.5 461.9M501.8 334.2L492.8 335.4L484 336.7L476.2 338L468.8 339.5L462.3 340.9L455.8 342.5L450.2 344.1L445.4 345.8L440.6 347.7L436.7 349.6L435.2 350.4L433.4 351.5L431.8 352.6L430.4 353.7L429.2 354.8L428.1 355.9L427.3 356.9L426.6 358L426 359.1L425.7 360.2L425.4 361.3L425.4 362.4L425.4 363.5L425.7 364.6L426 365.7L426.6 366.8L427.3 367.9L428.1 368.9L429.2 370L430.4 371.1L431.8 372.2L433.4 373.3L435.2 374.4L436.7 375.2L440.6 377.1L445.4 379L450.2 380.7L455.8 382.3L462.3 383.9L468.8 385.3L476.2 386.8L484 388.1L492.8 389.4L501.8 390.6M425.5 262.9L425.4 264L425.4 265.4L425.7 266.5L426 267.6L426.7 268.9L427.5 270L428.4 271.1L429.5 272.2L430.7 273.3L432.2 274.4L433.8 275.5L435.6 276.6L439.4 278.5L444 280.4L449.4 282.3L454.8 283.9L461.2 285.6L467.8 287L475.6 288.6L483.6 289.9L492.4 291.2L501.8 292.5M501.8 437.7L495.4 438.8L489.4 440.1L483.6 441.4L478.6 442.7L473.5 444.1L469.4 445.5L465.8 446.9L462.3 448.4L459 450.1L456.4 451.7L454.3 453.4L453.4 454.2L452.7 455.1L452 455.9L451.5 456.7L451 457.5L450.7 458.3L450.5 459.1L450.4 460L450.4 461L450.5 461.9M501.8 339.6L496.1 340.6L490.5 341.7L485 342.9L480.1 344.2L475.3 345.5L471 346.9L467.2 348.2L463.9 349.6L460.9 351L458.1 352.6L455.6 354.2L453.7 355.9L452.9 356.7L452.2 357.5L451.6 358.3L451.2 359.1L450.8 359.9L450.5 360.8L450.4 361.6L450.3 362.4L450.4 363.2L450.5 364L450.8 364.9L451.2 365.7L451.6 366.5L452.2 367.3L452.9 368.1L453.7 368.9L455.6 370.6L458.1 372.2L460.9 373.8L463.9 375.2L467.2 376.6L471 377.9L475.3 379.3L480.1 380.6L485 381.9L490.5 383.1L496.1 384.2L501.8 385.2M450.5 262.9L450.4 263.8L450.4 264.8L450.5 265.7L450.7 266.5L451 267.3L451.5 268.1L452 268.9L452.7 269.8L453.4 270.6L454.3 271.4L456.4 273.1L459 274.7L462.3 276.4L465.8 277.9L469.4 279.3L473.5 280.6L478.6 282.1L483.6 283.4L489.4 284.7L495.4 286L501.8 287.1M501.8 444.3L498.5 445.2L495 446.3L492.4 447.2L489.7 448.2L487.1 449.3L484.8 450.4L482.8 451.5L481.1 452.6L479.6 453.7L478.3 454.8L477.3 455.9L476.3 457.2L475.7 458.3L475.4 459.4L475.3 460.8L475.5 461.9M501.8 346.2L495.8 348L492.9 348.9L490.4 349.9L488 350.9L486 351.8L483.8 352.9L481.9 354L480.6 354.8L479.2 355.9L478 356.9L477 358L476.3 359.1L475.7 360.2L475.4 361.3L475.3 362.4L475.4 363.5L475.7 364.6L476.3 365.7L477 366.8L478 367.9L479.2 368.9L480.6 370L481.9 370.8L483.8 371.9L486 373L488 373.9L490.4 374.9L492.9 375.9L495.8 376.8L501.8 378.6M475.5 262.9L475.3 264L475.4 265.4L475.7 266.5L476.3 267.6L477.3 268.9L478.3 270L479.6 271.1L481.1 272.2L482.8 273.3L484.8 274.4L487.1 275.5L489.7 276.6L492.4 277.6L495 278.5L498.5 279.6L501.8 280.5M501.8 456.7L501.1 457.8L500.8 458.3L500.5 459.1L500.4 459.7L500.3 460.5L500.4 461.3L500.5 461.9M501.8 358.6L501.2 359.4L500.7 360.5L500.4 361.3L500.3 362.4L500.4 363.5L500.7 364.3L501.2 365.4L501.8 366.2M500.5 262.9L500.4 263.5L500.3 264.3L500.4 265.1L500.5 265.7L500.8 266.5L501.1 267L501.8 268.1" fill="none" stroke="#000" stroke-width="0.75" stroke-linejoin="round"/>
<path d="M299.1 261.3H503.3V463.5H299.1ZM302.1 264.3V460.5H500.3V264.3Z" fill="#fff" fill-rule="evenodd"/>
<text x="303.0" y="258.90" font-size="9.8" fill="#000" stroke="#000" stroke-width="0.22">(d) Uncertainty Due to Vehicle Speed</text>
<line x1="299.9" x2="302.1" y1="435.98" y2="435.98" stroke="#333" stroke-width="0.7"/>
<text x="299.0" y="438.38" font-size="8.4" fill="#4D4D4D" stroke="#4D4D4D" stroke-width="0.15" text-anchor="end">45</text>
<line x1="299.9" x2="302.1" y1="411.45" y2="411.45" stroke="#333" stroke-width="0.7"/>
<text x="299.0" y="413.45" font-size="8.4" fill="#4D4D4D" stroke="#4D4D4D" stroke-width="0.15" text-anchor="end">90</text>
<line x1="299.9" x2="302.1" y1="386.93" y2="386.93" stroke="#333" stroke-width="0.7"/>
<text x="299.0" y="388.93" font-size="8.4" fill="#4D4D4D" stroke="#4D4D4D" stroke-width="0.15" text-anchor="end">135</text>
<line x1="299.9" x2="302.1" y1="362.40" y2="362.40" stroke="#333" stroke-width="0.7"/>
<text x="299.0" y="364.40" font-size="8.4" fill="#4D4D4D" stroke="#4D4D4D" stroke-width="0.15" text-anchor="end">180</text>
<line x1="299.9" x2="302.1" y1="337.88" y2="337.88" stroke="#333" stroke-width="0.7"/>
<text x="299.0" y="339.88" font-size="8.4" fill="#4D4D4D" stroke="#4D4D4D" stroke-width="0.15" text-anchor="end">225</text>
<line x1="299.9" x2="302.1" y1="313.35" y2="313.35" stroke="#333" stroke-width="0.7"/>
<text x="299.0" y="315.35" font-size="8.4" fill="#4D4D4D" stroke="#4D4D4D" stroke-width="0.15" text-anchor="end">270</text>
<line x1="299.9" x2="302.1" y1="288.83" y2="288.83" stroke="#333" stroke-width="0.7"/>
<text x="299.0" y="290.83" font-size="8.4" fill="#4D4D4D" stroke="#4D4D4D" stroke-width="0.15" text-anchor="end">315</text>
<text x="299.0" y="266.70" font-size="8.4" fill="#4D4D4D" stroke="#4D4D4D" stroke-width="0.15" text-anchor="end">360</text>
<text x="296.3" y="470.9" font-size="8.4" fill="#4D4D4D" stroke="#4D4D4D" stroke-width="0.15" text-anchor="middle">0</text>
<text x="348.0" y="470.9" font-size="8.4" fill="#4D4D4D" stroke="#4D4D4D" stroke-width="0.15" text-anchor="middle">5</text>
<text x="398.9" y="470.9" font-size="8.4" fill="#4D4D4D" stroke="#4D4D4D" stroke-width="0.15" text-anchor="middle">10</text>
<text x="450.2" y="470.9" font-size="8.4" fill="#4D4D4D" stroke="#4D4D4D" stroke-width="0.15" text-anchor="middle">15</text>
<text x="502.3" y="470.9" font-size="8.4" fill="#1a1a1a" stroke="#1a1a1a" stroke-width="0.3" text-anchor="middle">20</text>
<line x1="500.3" x2="500.3" y1="460.5" y2="462.4" stroke="#333" stroke-width="0.6"/>
<text x="401.2" y="480.5" font-size="9.8" fill="#000" stroke="#000" stroke-width="0.22" text-anchor="middle">Vehicle Speed (m/s)</text>
<rect x="515.8" y="394.38" width="11.0" height="11.09" fill="#50065A"/>
<rect x="515.8" y="382.39" width="11.0" height="11.09" fill="#4B2E82"/>
<rect x="515.8" y="370.40" width="11.0" height="11.09" fill="#0E5B90"/>
<rect x="515.8" y="358.41" width="11.0" height="11.09" fill="#008090"/>
<rect x="515.8" y="346.42" width="11.0" height="11.09" fill="#00A387"/>
<rect x="515.8" y="334.43" width="11.0" height="11.09" fill="#0BBF69"/>
<rect x="515.8" y="322.44" width="11.0" height="11.09" fill="#8DCF22"/>
<rect x="515.8" y="310.45" width="11.0" height="11.09" fill="#FFE800"/>
<text x="543.7" y="407.60" font-size="7.5" fill="#000" stroke="#000" stroke-width="0.15" text-anchor="end">0.0</text>
<text x="543.7" y="395.64" font-size="7.5" fill="#000" stroke="#000" stroke-width="0.15" text-anchor="end">0.5</text>
<text x="543.7" y="383.68" font-size="7.5" fill="#000" stroke="#000" stroke-width="0.15" text-anchor="end">1.0</text>
<text x="543.7" y="371.72" font-size="7.5" fill="#000" stroke="#000" stroke-width="0.15" text-anchor="end">1.5</text>
<text x="543.7" y="359.76" font-size="7.5" fill="#000" stroke="#000" stroke-width="0.15" text-anchor="end">2.0</text>
<text x="543.7" y="347.80" font-size="7.5" fill="#000" stroke="#000" stroke-width="0.15" text-anchor="end">2.5</text>
<text x="543.7" y="335.84" font-size="7.5" fill="#000" stroke="#000" stroke-width="0.15" text-anchor="end">3.0</text>
<text x="543.7" y="323.88" font-size="7.5" fill="#000" stroke="#000" stroke-width="0.15" text-anchor="end">3.5</text>
<text x="543.7" y="311.92" font-size="7.5" fill="#000" stroke="#000" stroke-width="0.15" text-anchor="end">4.0</text>
</svg>
</body></html>
